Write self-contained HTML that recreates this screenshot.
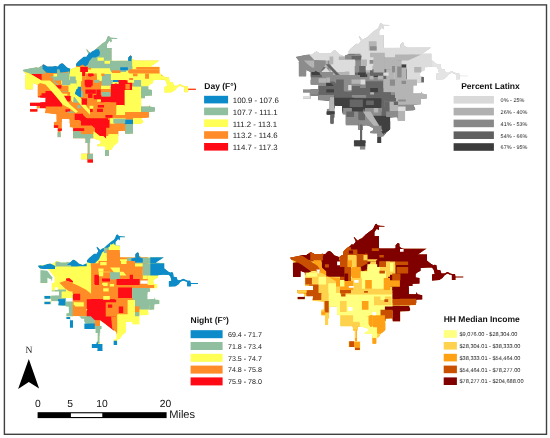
<!DOCTYPE html>
<html><head><meta charset="utf-8"><title>Figure</title>
<style>html,body{margin:0;padding:0;background:#fff}svg{display:block}text{font-family:"Liberation Sans",sans-serif;text-rendering:geometricPrecision}</style>
</head><body>
<svg width="550" height="438" viewBox="0 0 550 438">
<defs><filter id="soft" x="-5%" y="-5%" width="110%" height="110%"><feGaussianBlur stdDeviation="0.4"/></filter></defs>
<rect width="550" height="438" fill="#fff"/>
<rect x="4.4" y="4.9" width="542.1" height="429.4" fill="#fff" stroke="#404040" stroke-width="1.4"/>
<text x="204.3" y="88.8" font-size="8.5" font-weight="bold" fill="#111">Day (F°)</text>
<rect x="204.1" y="95.8" width="24" height="7.6" fill="#0b8bc9"/>
<text x="232.8" y="103.0" font-size="7.8" fill="#222">100.9 - 107.6</text>
<rect x="204.1" y="107.6" width="24" height="7.6" fill="#8fbf9f"/>
<text x="232.8" y="114.8" font-size="7.8" fill="#222">107.7 - 111.1</text>
<rect x="204.1" y="119.4" width="24" height="7.6" fill="#ffff55"/>
<text x="232.8" y="126.6" font-size="7.8" fill="#222">111.2 - 113.1</text>
<rect x="204.1" y="131.2" width="24" height="7.6" fill="#ff8c28"/>
<text x="232.8" y="138.4" font-size="7.8" fill="#222">113.2 - 114.6</text>
<rect x="204.1" y="143.0" width="24" height="7.6" fill="#ff0a14"/>
<text x="232.8" y="150.2" font-size="7.8" fill="#222">114.7 - 117.3</text>
<text x="461.2" y="88.8" font-size="8.5" font-weight="bold" fill="#111">Percent Latinx</text>
<rect x="453.6" y="96.0" width="40.3" height="7.6" fill="#d9d9d9"/>
<text x="500.6" y="102.1" font-size="5.5" fill="#222">0% - 25%</text>
<rect x="453.6" y="107.8" width="40.3" height="7.6" fill="#b0b0b0"/>
<text x="500.6" y="113.9" font-size="5.5" fill="#222">26% - 40%</text>
<rect x="453.6" y="119.6" width="40.3" height="7.6" fill="#888888"/>
<text x="500.6" y="125.7" font-size="5.5" fill="#222">41% - 53%</text>
<rect x="453.6" y="131.4" width="40.3" height="7.6" fill="#606060"/>
<text x="500.6" y="137.5" font-size="5.5" fill="#222">54% - 66%</text>
<rect x="453.6" y="143.2" width="40.3" height="7.6" fill="#3c3c3c"/>
<text x="500.6" y="149.3" font-size="5.5" fill="#222">67% - 95%</text>
<text x="190.6" y="323.2" font-size="8.5" font-weight="bold" fill="#111">Night (F°)</text>
<rect x="190.6" y="330.2" width="32" height="8" fill="#0b8bc9"/>
<text x="228" y="337.0" font-size="7.1" fill="#222">69.4 - 71.7</text>
<rect x="190.6" y="342.0" width="32" height="8" fill="#8fbf9f"/>
<text x="228" y="348.8" font-size="7.1" fill="#222">71.8 - 73.4</text>
<rect x="190.6" y="353.8" width="32" height="8" fill="#ffff55"/>
<text x="228" y="360.6" font-size="7.1" fill="#222">73.5 - 74.7</text>
<rect x="190.6" y="365.6" width="32" height="8" fill="#ff8c28"/>
<text x="228" y="372.4" font-size="7.1" fill="#222">74.8 - 75.8</text>
<rect x="190.6" y="377.4" width="32" height="8" fill="#ff0a14"/>
<text x="228" y="384.2" font-size="7.1" fill="#222">75.9 - 78.0</text>
<text x="443.7" y="322.2" font-size="8.5" font-weight="bold" fill="#111">HH Median Income</text>
<rect x="443.7" y="330.2" width="13.2" height="7.6" fill="#ffff80"/>
<text x="459.5" y="336.2" font-size="5.6" fill="#222">$9,076.00 - $28,304.00</text>
<rect x="443.7" y="342.0" width="13.2" height="7.6" fill="#ffd24d"/>
<text x="459.5" y="348.0" font-size="5.6" fill="#222">$28,304.01 - $38,333.00</text>
<rect x="443.7" y="353.8" width="13.2" height="7.6" fill="#ffa114"/>
<text x="459.5" y="359.8" font-size="5.6" fill="#222">$38,333.01 - $54,464.00</text>
<rect x="443.7" y="365.6" width="13.2" height="7.6" fill="#c85000"/>
<text x="459.5" y="371.6" font-size="5.6" fill="#222">$54,464.01 - $78,277.00</text>
<rect x="443.7" y="377.4" width="13.2" height="7.6" fill="#800000"/>
<text x="459.5" y="383.4" font-size="5.6" fill="#222">$78,277.01 - $204,688.00</text>
<text x="29" y="353" font-size="9.6" text-anchor="middle" style="font-family:'Liberation Serif',serif" fill="#111">N</text>
<polygon points="28.8,358.9 39.1,388.6 28.8,382.1 18.1,388.9" fill="#000"/>
<rect x="37.6" y="412.2" width="129" height="5.9" fill="#000"/>
<rect x="70.9" y="413.3" width="31.4" height="3.7" fill="#fff"/>
<text x="37.9" y="406.5" font-size="10.3" text-anchor="middle" fill="#111">0</text>
<text x="70.1" y="406.5" font-size="10.3" text-anchor="middle" fill="#111">5</text>
<text x="101.9" y="406.5" font-size="10.3" text-anchor="middle" fill="#111">10</text>
<text x="165.6" y="406.5" font-size="10.3" text-anchor="middle" fill="#111">20</text>
<text x="169.2" y="418" font-size="11.1" fill="#111">Miles</text>
<clipPath id="cday"><polygon points="22.7,70.0 30.0,68.5 36.4,67.3 38.5,67.8 42.5,64.8 43.5,64.2 47.4,66.4 52.9,66.4 55.0,65.9 57.8,66.4 60.0,64.0 62.2,63.1 63.8,64.2 67.1,67.5 71.5,69.2 73.0,68.3 76.0,67.3 76.0,64.0 78.0,61.5 81.0,59.0 83.7,56.8 86.4,56.8 88.4,53.8 86.2,49.4 87.0,49.2 90.3,53.0 91.9,51.4 94.6,50.3 97.4,47.5 102.9,43.1 105.6,41.5 107.8,36.6 108.9,36.0 110.5,37.7 117.1,38.1 117.1,38.9 111.2,39.0 111.6,41.0 111.0,42.5 109.6,40.6 106.9,44.2 106.9,48.1 111.6,48.1 111.6,60.7 128.2,60.8 128.2,57.5 130.4,55.3 132.0,55.9 132.0,58.6 134.8,60.6 159.4,60.6 150.3,66.7 159.6,66.8 159.6,72.9 164.1,76.4 166.3,77.5 167.4,77.0 169.0,77.5 169.6,81.9 172.9,82.5 174.0,85.7 177.2,85.7 180.0,84.1 182.2,85.2 184.9,86.3 187.6,86.3 188.2,88.7 195.9,88.7 195.9,89.7 188.2,89.7 188.2,92.3 184.4,92.3 184.4,87.4 182.2,86.8 180.0,85.8 177.2,87.4 175.0,90.1 171.8,92.3 164.6,92.6 164.6,86.8 167.4,86.3 166.3,81.9 164.6,79.7 159.7,79.7 153.1,80.3 153.1,83.0 149.9,84.6 148.2,86.3 148.2,89.6 152.0,90.1 152.0,95.6 145.0,96.0 145.0,98.2 141.2,98.2 141.2,106.4 148.9,106.4 149.4,104.2 149.9,106.5 154.9,107.4 154.9,111.6 148.9,111.9 148.9,117.4 141.8,117.9 141.8,118.7 143.4,122.3 141.2,123.4 133.0,124.0 133.0,133.8 125.3,133.8 125.3,131.6 124.2,130.5 118.2,131.0 118.2,141.9 113.8,145.7 111.6,149.6 108.9,150.1 108.9,156.1 105.0,156.1 105.0,146.3 97.4,146.3 97.4,144.6 100.7,143.5 100.7,140.8 93.5,138.6 90.3,138.6 90.3,143.0 89.7,143.0 89.7,153.4 93.0,153.4 93.0,162.7 87.3,162.7 87.3,159.4 81.0,159.4 81.0,153.4 87.5,153.4 87.5,143.0 85.3,143.0 85.3,138.6 72.9,138.6 72.9,127.5 69.6,127.5 69.6,118.7 61.9,118.7 61.9,130.7 60.8,130.7 60.8,137.3 57.5,137.3 57.5,128.0 53.7,128.0 53.7,122.0 56.4,121.4 56.4,114.3 44.9,113.2 45.7,108.5 37.5,108.5 37.5,111.8 29.9,111.8 29.9,108.9 36.5,108.9 36.5,105.8 29.9,105.8 29.9,102.5 45.7,102.5 45.7,97.6 37.5,97.6 37.5,85.0 33.1,83.0 33.1,89.4 25.5,89.4 25.5,75.2 26.0,74.6"/></clipPath>
<g filter="url(#soft)"><g clip-path="url(#cday)">
<polygon points="22.7,70.0 30.0,68.5 36.4,67.3 38.5,67.8 42.5,64.8 43.5,64.2 47.4,66.4 52.9,66.4 55.0,65.9 57.8,66.4 60.0,64.0 62.2,63.1 63.8,64.2 67.1,67.5 71.5,69.2 73.0,68.3 76.0,67.3 76.0,64.0 78.0,61.5 81.0,59.0 83.7,56.8 86.4,56.8 88.4,53.8 86.2,49.4 87.0,49.2 90.3,53.0 91.9,51.4 94.6,50.3 97.4,47.5 102.9,43.1 105.6,41.5 107.8,36.6 108.9,36.0 110.5,37.7 117.1,38.1 117.1,38.9 111.2,39.0 111.6,41.0 111.0,42.5 109.6,40.6 106.9,44.2 106.9,48.1 111.6,48.1 111.6,60.7 128.2,60.8 128.2,57.5 130.4,55.3 132.0,55.9 132.0,58.6 134.8,60.6 159.4,60.6 150.3,66.7 159.6,66.8 159.6,72.9 164.1,76.4 166.3,77.5 167.4,77.0 169.0,77.5 169.6,81.9 172.9,82.5 174.0,85.7 177.2,85.7 180.0,84.1 182.2,85.2 184.9,86.3 187.6,86.3 188.2,88.7 195.9,88.7 195.9,89.7 188.2,89.7 188.2,92.3 184.4,92.3 184.4,87.4 182.2,86.8 180.0,85.8 177.2,87.4 175.0,90.1 171.8,92.3 164.6,92.6 164.6,86.8 167.4,86.3 166.3,81.9 164.6,79.7 159.7,79.7 153.1,80.3 153.1,83.0 149.9,84.6 148.2,86.3 148.2,89.6 152.0,90.1 152.0,95.6 145.0,96.0 145.0,98.2 141.2,98.2 141.2,106.4 148.9,106.4 149.4,104.2 149.9,106.5 154.9,107.4 154.9,111.6 148.9,111.9 148.9,117.4 141.8,117.9 141.8,118.7 143.4,122.3 141.2,123.4 133.0,124.0 133.0,133.8 125.3,133.8 125.3,131.6 124.2,130.5 118.2,131.0 118.2,141.9 113.8,145.7 111.6,149.6 108.9,150.1 108.9,156.1 105.0,156.1 105.0,146.3 97.4,146.3 97.4,144.6 100.7,143.5 100.7,140.8 93.5,138.6 90.3,138.6 90.3,143.0 89.7,143.0 89.7,153.4 93.0,153.4 93.0,162.7 87.3,162.7 87.3,159.4 81.0,159.4 81.0,153.4 87.5,153.4 87.5,143.0 85.3,143.0 85.3,138.6 72.9,138.6 72.9,127.5 69.6,127.5 69.6,118.7 61.9,118.7 61.9,130.7 60.8,130.7 60.8,137.3 57.5,137.3 57.5,128.0 53.7,128.0 53.7,122.0 56.4,121.4 56.4,114.3 44.9,113.2 45.7,108.5 37.5,108.5 37.5,111.8 29.9,111.8 29.9,108.9 36.5,108.9 36.5,105.8 29.9,105.8 29.9,102.5 45.7,102.5 45.7,97.6 37.5,97.6 37.5,85.0 33.1,83.0 33.1,89.4 25.5,89.4 25.5,75.2 26.0,74.6" fill="#ff8c28"/>
<polygon points="20.0,66.0 32.0,66.0 32.0,72.0 20.0,72.0" fill="#8fbf9f"/>
<polygon points="105.0,40.0 112.0,40.0 112.0,49.0 105.0,49.0" fill="#8fbf9f"/>
<polygon points="107.0,35.0 119.0,35.0 119.0,41.0 107.0,41.0" fill="#8fbf9f"/>
<polygon points="84.0,47.0 91.0,47.0 91.0,56.0 84.0,56.0" fill="#8fbf9f"/>
<polygon points="100.0,60.0 160.0,60.0 160.0,80.0 200.0,80.0 200.0,95.0 140.0,95.0 140.0,125.0 118.0,150.0 95.0,150.0 93.0,131.0 110.0,125.0 125.0,100.0 100.0,80.0" fill="#ffff55"/>
<polygon points="68.5,67.8 90.0,67.8 90.0,95.9 68.5,95.9" fill="#ffff55"/>
<polygon points="81.3,69.0 90.0,69.0 90.0,97.1 81.3,97.1" fill="#ff8c28"/>
<polygon points="76.8,86.9 81.3,86.9 81.3,97.1 76.8,97.1" fill="#0b8bc9"/>
<polygon points="71.1,93.3 76.8,93.3 76.8,106.1 71.1,106.1" fill="#ffff55"/>
<polygon points="73.6,97.1 77.5,97.1 77.5,103.5 73.6,103.5" fill="#8fbf9f"/>
<polygon points="22.0,68.7 34.8,66.0 42.5,66.0 45.7,73.8 30.7,74.0 22.0,71.0" fill="#8fbf9f"/>
<polygon points="42.5,63.3 72.0,63.3 72.0,73.8 69.4,73.8 69.4,71.5 60.3,72.8 58.5,69.2 56.7,73.3 46.6,72.8 42.5,68.7" fill="#0b8bc9"/>
<polygon points="57.1,69.2 59.4,69.2 60.3,72.8 69.4,72.4 69.4,85.2 62.1,85.2 62.1,80.6 53.0,80.6 49.4,77.4 52.1,76.0 57.1,76.0" fill="#8fbf9f"/>
<polygon points="53.5,73.8 57.1,73.8 57.1,76.5 53.5,76.5" fill="#ffff55"/>
<polygon points="30.7,74.0 41.6,74.0 41.6,80.6" fill="#ff0a14"/>
<polygon points="42.1,74.0 49.4,74.0 49.4,80.6 42.1,80.6" fill="#ff8c28"/>
<polygon points="49.4,77.4 53.0,77.4 53.0,80.6 49.4,80.6" fill="#ff8c28"/>
<polygon points="38.9,84.2 45.7,84.2 45.7,96.1 38.9,96.1" fill="#ff8c28"/>
<polygon points="46.2,92.0 53.5,92.0 53.5,98.8 46.2,98.8" fill="#ff0a14"/>
<polygon points="41.6,99.3 62.1,99.3 62.1,106.0 41.6,106.0" fill="#ff0a14"/>
<polygon points="30.2,102.5 41.6,102.5 41.6,106.0 30.2,106.0" fill="#ff0a14"/>
<polygon points="38.0,95.9 46.2,95.9 46.2,97.5 38.0,97.5" fill="#ff0a14"/>
<polygon points="53.5,96.1 58.5,96.1 58.5,98.8 53.5,98.8" fill="#ff8c28"/>
<polygon points="61.2,80.6 72.0,80.6 72.0,85.6 61.2,85.6" fill="#ffff55"/>
<polygon points="53.5,84.2 62.1,84.2 62.1,87.0 53.5,87.0" fill="#ff8c28"/>
<polygon points="55.8,85.6 61.2,85.6 61.2,88.4 55.8,88.4" fill="#ff0a14"/>
<polygon points="58.5,87.0 67.6,87.0 67.6,93.4 58.5,93.4" fill="#ff8c28"/>
<polygon points="62.1,91.5 67.6,91.5 67.6,93.4 62.1,93.4" fill="#8fbf9f"/>
<polygon points="62.1,96.1 70.4,96.1 70.4,102.0 62.1,102.0" fill="#ff0a14"/>
<polygon points="67.6,100.7 72.0,100.7 72.0,106.0 67.6,106.0" fill="#ff8c28"/>
<polygon points="24.7,76.0 33.4,76.0 33.4,88.8 24.7,88.8" fill="#ffff55"/>
<polygon points="52.1,80.6 53.5,80.6 58.5,84.7 57.1,85.2" fill="#8fbf9f"/>
<polygon points="70.0,67.0 140.0,67.0 140.0,81.1 70.0,81.1" fill="#ffff55"/>
<polygon points="87.2,58.7 98.7,44.0 104.5,40.2 106.4,33.8 113.4,33.8 113.4,60.7 132.6,58.7 132.6,68.3 126.2,68.3 126.2,72.1 110.9,72.1 110.9,68.3 89.2,68.3 86.0,65.8" fill="#8fbf9f"/>
<polygon points="73.8,63.8 80.2,57.5 83.4,55.3 86.0,56.2 89.8,52.3 93.0,49.5 98.7,49.2 100.0,52.3 99.4,55.5 95.5,57.5 92.3,57.5 89.2,61.3 87.9,64.5 85.3,66.4 82.8,64.5 78.9,66.4 76.4,65.8" fill="#0b8bc9"/>
<polygon points="88.9,54.0 89.4,53.6 87.0,49.2 86.5,49.4" fill="#8fbf9f"/>
<polygon points="111.5,37.9 117.9,37.9 117.9,38.7 111.5,38.7" fill="#8fbf9f"/>
<polygon points="97.5,57.5 103.8,57.5 103.8,60.7 97.5,60.7" fill="#ffff55"/>
<polygon points="104.5,60.7 111.5,60.7 111.5,63.8 104.5,63.8" fill="#ffff55"/>
<polygon points="80.2,67.0 87.9,67.0 87.9,72.1 80.2,72.1" fill="#ff0a14"/>
<polygon points="82.1,72.1 85.3,72.1 85.3,76.0 82.1,76.0" fill="#ff0a14"/>
<polygon points="87.9,67.7 91.1,67.7 91.1,69.6 87.9,69.6" fill="#ff8c28"/>
<polygon points="85.3,73.4 96.8,73.4 96.8,81.1 85.3,81.1" fill="#ff8c28"/>
<polygon points="82.1,76.0 85.3,76.0 85.3,85.9 82.1,85.9" fill="#ff8c28"/>
<polygon points="89.2,74.1 93.6,74.1 93.6,76.6 89.2,76.6" fill="#ff0a14"/>
<polygon points="85.3,79.8 90.4,79.8 90.4,85.9 85.3,85.9" fill="#ff0a14"/>
<polygon points="70.0,76.6 75.7,76.6 75.7,85.9 70.0,85.9" fill="#8fbf9f"/>
<polygon points="101.9,74.1 110.9,74.1 110.9,85.9 101.9,85.9" fill="#8fbf9f"/>
<polygon points="94.3,79.8 99.4,79.8 99.4,82.4 94.3,82.4" fill="#8fbf9f"/>
<polygon points="101.3,73.4 104.5,73.4 104.5,76.0 101.3,76.0" fill="#ff8c28"/>
<polygon points="112.1,70.2 120.4,70.2 120.4,72.8 112.1,72.8" fill="#ff8c28"/>
<polygon points="120.4,67.0 127.5,67.0 127.5,69.6 120.4,69.6" fill="#0b8bc9"/>
<polygon points="128.1,70.2 140.0,70.2 140.0,72.8 128.1,72.8" fill="#ff8c28"/>
<polygon points="133.9,72.8 137.7,72.8 137.7,75.3 133.9,75.3" fill="#ff8c28"/>
<polygon points="119.8,80.4 124.9,80.4 124.9,85.9 119.8,85.9" fill="#ff0a14"/>
<polygon points="124.9,80.4 127.5,80.4 127.5,85.9 124.9,85.9" fill="#ff8c28"/>
<polygon points="114.7,83.6 118.5,83.6 118.5,85.9 114.7,85.9" fill="#ff0a14"/>
<polygon points="129.4,77.9 133.2,77.9 133.2,79.8 129.4,79.8" fill="#ff0a14"/>
<polygon points="128.1,60.7 128.1,57.5 130.7,54.9 131.9,57.5 131.9,60.7" fill="#0b8bc9"/>
<polygon points="131.9,57.5 133.9,57.5 133.9,60.7 131.9,60.7" fill="#ffff55"/>
<polygon points="132.6,60.7 140.0,60.7 140.0,68.3 132.6,68.3" fill="#ffff55"/>
<polygon points="133.9,80.4 140.0,80.4 140.0,83.0 133.9,83.0" fill="#8fbf9f"/>
<polygon points="111.9,73.0 161.1,73.0 161.1,80.7 111.9,80.7" fill="#ffff55"/>
<polygon points="125.3,80.0 152.1,80.0 152.1,105.9 125.3,105.9" fill="#ffff55"/>
<polygon points="158.5,75.5 180.0,75.5 180.0,93.4 158.5,93.4" fill="#ffff55"/>
<polygon points="110.0,60.9 132.3,60.9 132.3,70.4 110.0,70.4" fill="#8fbf9f"/>
<polygon points="132.3,60.9 135.5,60.9 135.5,66.6 132.3,66.6" fill="#ffff55"/>
<polygon points="128.5,60.9 128.5,57.0 131.1,55.1 131.7,60.9" fill="#0b8bc9"/>
<polygon points="131.7,57.7 134.9,57.7 134.9,60.9 131.7,60.9" fill="#ffff55"/>
<polygon points="134.9,60.9 159.2,60.9 150.9,67.2 136.2,67.2" fill="#ffff55"/>
<polygon points="120.2,67.2 127.9,67.2 127.9,70.2 120.2,70.2" fill="#0b8bc9"/>
<polygon points="129.2,69.2 159.8,69.2 159.8,73.6 129.2,73.6" fill="#ff8c28"/>
<polygon points="136.2,67.0 159.8,67.0 159.8,69.2 136.2,69.2" fill="#ff8c28"/>
<polygon points="111.9,70.4 120.2,70.4 120.2,73.0 111.9,73.0" fill="#ff8c28"/>
<polygon points="145.1,73.6 149.0,73.6 149.0,78.7 145.1,78.7" fill="#ff8c28"/>
<polygon points="133.0,73.6 137.5,73.6 137.5,76.2 133.0,76.2" fill="#ff8c28"/>
<polygon points="110.0,87.0 125.3,87.0 125.3,105.9 110.0,105.9" fill="#ff0a14"/>
<polygon points="117.7,80.0 125.3,80.0 125.3,87.0 117.7,87.0" fill="#ff0a14"/>
<polygon points="117.0,81.9 120.2,81.9 120.2,85.8 117.0,85.8" fill="#ffff55"/>
<polygon points="117.7,90.2 121.5,90.2 121.5,92.1 117.7,92.1" fill="#ffff55"/>
<polygon points="112.6,80.0 118.3,80.0 118.3,81.9 112.6,81.9" fill="#0b8bc9"/>
<polygon points="110.0,88.3 112.6,88.3 112.6,92.1 110.0,92.1" fill="#ff8c28"/>
<polygon points="125.3,80.0 133.0,80.0 133.0,86.4 125.3,86.4" fill="#ff8c28"/>
<polygon points="129.2,78.4 133.0,78.4 133.0,80.0 129.2,80.0" fill="#ff0a14"/>
<polygon points="129.2,89.6 133.0,89.6 133.0,96.0 129.2,96.0" fill="#ff8c28"/>
<polygon points="133.6,80.0 141.3,80.0 141.3,86.4 133.6,86.4" fill="#8fbf9f"/>
<polygon points="141.3,86.4 152.1,86.4 152.1,94.7 141.3,94.7" fill="#8fbf9f"/>
<polygon points="141.3,94.7 145.1,94.7 145.1,98.5 141.3,98.5" fill="#8fbf9f"/>
<polygon points="85.0,85.1 110.5,85.1 110.5,118.3 85.0,118.3" fill="#ff8c28"/>
<polygon points="85.0,80.0 92.7,80.0 92.7,85.7 85.0,85.7" fill="#ff0a14"/>
<polygon points="94.6,80.0 98.4,80.0 98.4,82.6 94.6,82.6" fill="#8fbf9f"/>
<polygon points="101.6,80.0 112.5,80.0 112.5,85.7 101.6,85.7" fill="#8fbf9f"/>
<polygon points="113.1,80.0 118.8,80.0 118.8,81.9 113.1,81.9" fill="#0b8bc9"/>
<polygon points="118.8,80.0 125.9,80.0 125.9,85.1 118.8,85.1" fill="#ff0a14"/>
<polygon points="125.9,80.0 132.9,80.0 132.9,85.7 125.9,85.7" fill="#ff8c28"/>
<polygon points="124.6,85.7 128.4,85.7 128.4,88.9 124.6,88.9" fill="#ff8c28"/>
<polygon points="101.0,85.7 110.5,85.7 110.5,88.9 101.0,88.9" fill="#ffff55"/>
<polygon points="111.2,85.1 124.6,85.1 124.6,104.9 111.2,104.9" fill="#ff0a14"/>
<polygon points="100.3,96.6 111.2,96.6 111.2,102.3 100.3,102.3" fill="#ff0a14"/>
<polygon points="101.6,92.1 110.5,92.1 110.5,96.6 101.6,96.6" fill="#8fbf9f"/>
<polygon points="124.6,89.6 141.2,89.6 141.2,111.9 124.6,111.9" fill="#ffff55"/>
<polygon points="132.9,86.4 141.2,86.4 141.2,92.8 132.9,92.8" fill="#ffff55"/>
<polygon points="132.9,80.0 141.2,80.0 141.2,86.4 132.9,86.4" fill="#8fbf9f"/>
<polygon points="141.2,80.0 148.9,80.0 148.9,85.7 141.2,85.7" fill="#ffff55"/>
<polygon points="141.2,86.4 152.0,86.4 152.0,95.3 141.2,95.3" fill="#8fbf9f"/>
<polygon points="141.2,106.2 155.0,106.2 155.0,111.3 141.2,111.3" fill="#8fbf9f"/>
<polygon points="125.2,111.9 148.9,111.9 148.9,117.0 125.2,117.0" fill="#ff8c28"/>
<polygon points="114.4,115.1 125.2,115.1 125.2,118.3 114.4,118.3" fill="#ff8c28"/>
<polygon points="132.9,117.0 143.1,117.0 143.1,123.4 132.9,123.4" fill="#ffff55"/>
<polygon points="125.2,119.6 132.9,119.6 132.9,124.1 125.2,124.1" fill="#0b8bc9"/>
<polygon points="125.2,124.1 132.9,124.1 132.9,133.6 125.2,133.6" fill="#8fbf9f"/>
<polygon points="113.7,119.0 125.2,119.0 125.2,124.1 113.7,124.1" fill="#8fbf9f"/>
<polygon points="85.0,92.1 90.1,92.1 90.1,96.6 85.0,96.6" fill="#ff0a14"/>
<polygon points="97.8,104.9 104.2,104.9 104.2,107.5 97.8,107.5" fill="#ff0a14"/>
<polygon points="90.1,108.7 92.7,108.7 92.7,111.9 90.1,111.9" fill="#ff0a14"/>
<polygon points="97.1,108.7 102.9,108.7 102.9,111.9 97.1,111.9" fill="#ff0a14"/>
<polygon points="105.4,115.1 112.5,115.1 112.5,117.7 105.4,117.7" fill="#ff0a14"/>
<polygon points="89.5,104.9 93.3,104.9 93.3,108.7 89.5,108.7" fill="#ffff55"/>
<polygon points="97.1,99.2 101.0,99.2 101.0,101.7 97.1,101.7" fill="#ffff55"/>
<polygon points="104.2,102.3 116.3,102.3 116.3,114.5 104.2,114.5" fill="#ff8c28"/>
<polygon points="116.3,104.9 124.6,104.9 124.6,115.1 116.3,115.1" fill="#ffff55"/>
<polygon points="85.0,118.3 108.0,118.3 108.0,123.4 104.2,123.4 104.2,135.9 99.0,135.9 85.0,123.4" fill="#ff0a14"/>
<polygon points="104.2,123.4 125.2,123.4 125.2,135.9 104.2,135.9" fill="#ff8c28"/>
<polygon points="109.9,118.3 114.4,118.3 114.4,123.4 109.9,123.4" fill="#ffff55"/>
<polygon points="37.8,86.9 55.0,86.9 55.0,96.5 37.8,96.5" fill="#ff8c28"/>
<polygon points="41.6,93.3 62.0,93.3 62.0,108.0 41.6,108.0" fill="#ff0a14"/>
<polygon points="30.1,102.9 41.6,102.9 41.6,106.1 30.1,106.1" fill="#ff0a14"/>
<polygon points="30.1,109.3 37.8,109.3 37.8,111.8 30.1,111.8" fill="#ff0a14"/>
<polygon points="45.4,106.1 62.0,108.0 67.1,111.8 78.6,116.9 85.0,123.3 85.0,131.0 73.5,131.0 69.7,123.3 64.6,122.0 56.9,122.7 56.9,114.4 45.4,112.5" fill="#ff8c28"/>
<polygon points="76.1,114.4 82.5,114.4 95.0,125.9 95.0,131.0 85.0,123.3 76.1,118.2" fill="#ff0a14"/>
<polygon points="53.7,125.2 58.2,125.2 58.2,127.8 53.7,127.8" fill="#ff0a14"/>
<polygon points="57.6,128.4 62.0,128.4 62.0,131.0 57.6,131.0" fill="#ff0a14"/>
<polygon points="73.5,128.4 85.0,128.4 85.0,131.0 73.5,131.0" fill="#ff0a14"/>
<polygon points="56.9,132.3 60.8,132.3 60.8,137.4 56.9,137.4" fill="#8fbf9f"/>
<polygon points="73.5,131.6 92.7,131.6 92.7,138.6 73.5,138.6" fill="#8fbf9f"/>
<polygon points="85.0,127.1 95.0,127.1 95.0,133.5 85.0,133.5" fill="#ff8c28"/>
<polygon points="74.8,88.8 81.2,88.8 81.2,95.2 74.8,95.2" fill="#0b8bc9"/>
<polygon points="62.0,95.9 68.4,95.9 68.4,99.0 62.0,99.0" fill="#ff0a14"/>
<polygon points="55.7,88.8 62.0,88.8 62.0,91.4 55.7,91.4" fill="#ff8c28"/>
<polygon points="40.0,84.6 46.4,84.6 46.4,92.8 40.0,92.8" fill="#ff8c28"/>
<polygon points="45.5,90.9 61.9,90.9 61.9,108.3 45.5,108.3" fill="#ff0a14"/>
<polygon points="40.0,95.5 45.5,95.5 45.5,108.3 40.0,108.3" fill="#ff0a14"/>
<polygon points="45.9,106.5 61.9,106.5 61.9,112.8 45.9,112.8" fill="#ff8c28"/>
<polygon points="56.4,112.8 76.5,112.8 76.5,120.0 56.4,120.0" fill="#ff8c28"/>
<polygon points="53.7,85.5 61.4,85.5 61.4,88.7 53.7,88.7" fill="#ff0a14"/>
<polygon points="57.3,88.7 61.9,88.7 61.9,91.9 57.3,91.9" fill="#ff8c28"/>
<polygon points="61.4,91.9 70.1,91.9 70.1,96.0 61.4,96.0" fill="#ff8c28"/>
<polygon points="61.9,96.0 70.1,96.0 70.1,101.4 61.9,101.4" fill="#ff0a14"/>
<polygon points="61.9,93.7 67.4,93.7 67.4,95.5 61.9,95.5" fill="#ffff55"/>
<polygon points="70.1,101.9 77.4,101.9 77.4,110.1 70.1,110.1" fill="#ff8c28"/>
<polygon points="73.3,99.6 78.8,99.6 78.8,102.8 73.3,102.8" fill="#8fbf9f"/>
<polygon points="77.4,105.1 80.6,105.1 80.6,108.3 77.4,108.3" fill="#8fbf9f"/>
<polygon points="65.5,109.2 70.1,109.2 70.1,111.9 65.5,111.9" fill="#ff0a14"/>
<polygon points="67.4,111.5 74.7,111.5 74.7,112.8 67.4,112.8" fill="#8fbf9f"/>
<polygon points="74.7,113.8 82.9,113.8 82.9,120.0 74.7,120.0" fill="#ff0a14"/>
<polygon points="70.1,81.8 81.1,81.8 81.1,89.1 70.1,89.1" fill="#ffff55"/>
<polygon points="61.9,80.0 76.5,80.0 76.5,85.0 61.9,85.0" fill="#8fbf9f"/>
<polygon points="73.8,90.0 77.4,89.1 77.9,86.8 81.1,86.8 81.1,97.3 78.3,96.4 77.4,92.8 73.8,92.3" fill="#0b8bc9"/>
<polygon points="81.1,87.3 83.8,87.3 83.8,97.3 81.1,97.3" fill="#8fbf9f"/>
<polygon points="81.1,81.8 90.0,81.8 90.0,90.9 81.1,90.9" fill="#ff8c28"/>
<polygon points="84.7,80.0 90.0,80.0 90.0,85.5 84.7,85.5" fill="#ff0a14"/>
<polygon points="80.1,98.2 90.0,98.2 90.0,101.9 80.1,101.9" fill="#ff0a14"/>
<polygon points="82.9,90.9 90.0,90.9 90.0,98.2 82.9,98.2" fill="#ff8c28"/>
<polygon points="70.1,83.6 76.5,83.6 76.5,89.1 74.7,93.7 81.1,98.2 87.4,107.4 90.0,110.1 90.0,114.7 82.9,107.4 78.3,101.9 72.8,94.6" fill="#ffff55"/>
<polygon points="24.7,76.0 30.7,74.0 41.6,80.6 50.0,80.5 56.9,86.8 62.8,93.7 66.8,100.5 70.0,104.4 78.0,111.5 76.0,113.0 70.0,108.5 62.5,104.4 58.5,99.5 53.7,93.7 45.5,84.6 40.0,83.0 36.0,86.0 33.4,84.0 33.4,89.5 24.7,89.5" fill="#ffff55"/>
<polygon points="106.1,124.4 124.8,124.4 124.8,131.0 106.1,131.0" fill="#ff8c28"/>
<polygon points="81.0,124.4 93.5,124.4 93.5,134.2 81.0,134.2" fill="#ff8c28"/>
<polygon points="81.0,120.0 109.4,120.0 109.4,127.7 106.1,127.7 106.1,138.6 91.9,125.5 81.0,125.5" fill="#ff0a14"/>
<polygon points="73.3,128.2 84.2,128.2 84.2,131.0 73.3,131.0" fill="#ff0a14"/>
<polygon points="73.3,131.5 81.0,131.5 81.0,138.1 73.3,138.1" fill="#8fbf9f"/>
<polygon points="81.0,134.2 93.0,134.2 93.0,138.1 81.0,138.1" fill="#8fbf9f"/>
<polygon points="85.3,138.1 90.3,138.1 90.3,143.0 85.3,143.0" fill="#8fbf9f"/>
<polygon points="87.5,143.0 89.7,143.0 89.7,152.9 87.5,152.9" fill="#8fbf9f"/>
<polygon points="87.5,153.4 93.0,153.4 93.0,159.4 87.5,159.4" fill="#8fbf9f"/>
<polygon points="81.0,153.4 87.0,153.4 87.0,159.4 81.0,159.4" fill="#ffff55"/>
<polygon points="87.3,159.6 93.0,159.6 93.0,162.7 87.3,162.7" fill="#ff0a14"/>
<polygon points="93.5,131.0 93.5,138.6 100.7,141.4 100.7,143.5 97.4,145.7 105.0,146.8 105.0,149.6 111.6,149.6 113.8,145.7 118.2,141.9 118.2,134.2 109.4,134.2 108.3,142.5 93.5,131.0" fill="#ffff55"/>
<polygon points="108.3,134.2 118.2,134.2 118.2,146.3 108.3,146.3" fill="#ffff55"/>
<polygon points="105.0,150.1 108.9,150.1 108.9,156.1 105.0,156.1" fill="#8fbf9f"/>
<polygon points="124.8,124.4 130.0,124.4 130.0,134.2 124.8,134.2" fill="#8fbf9f"/>
<polygon points="124.8,120.0 130.0,120.0 130.0,124.4 124.8,124.4" fill="#0b8bc9"/>
<polygon points="141.2,90.0 152.2,90.0 152.2,98.2 141.2,98.2" fill="#8fbf9f"/>
<polygon points="141.2,106.4 154.9,106.4 154.9,111.9 141.2,111.9" fill="#8fbf9f"/>
<polygon points="125.3,111.9 148.9,111.9 148.9,117.9 125.3,117.9" fill="#ff8c28"/>
<polygon points="125.3,115.2 133.5,115.2 133.5,119.6 125.3,119.6" fill="#ff8c28"/>
<polygon points="133.0,117.9 144.0,117.9 144.0,124.0 133.0,124.0" fill="#ffff55"/>
<polygon points="125.3,119.8 133.0,119.8 133.0,124.0 125.3,124.0" fill="#0b8bc9"/>
<polygon points="125.3,124.0 133.0,124.0 133.0,133.8 125.3,133.8" fill="#8fbf9f"/>
<polygon points="113.3,118.7 125.3,118.7 125.3,122.9 113.3,122.9" fill="#8fbf9f"/>
<polygon points="110.0,124.0 125.3,124.0 125.3,133.8 110.0,133.8" fill="#ff8c28"/>
<polygon points="85.4,80.1 91.4,80.1 91.4,87.2 85.4,87.2" fill="#ff0a14"/>
<polygon points="85.4,89.4 95.8,89.4 95.8,93.8 85.4,93.8" fill="#ff0a14"/>
<polygon points="93.6,94.9 101.3,94.9 101.3,99.2 93.6,99.2" fill="#ff0a14"/>
<polygon points="81.6,99.2 87.0,99.2 87.0,104.7 81.6,104.7" fill="#ff0a14"/>
<polygon points="96.4,89.4 100.7,89.4 100.7,94.9 96.4,94.9" fill="#ff0a14"/>
<polygon points="88.1,73.5 93.1,73.5 93.1,76.2 88.1,76.2" fill="#ff0a14"/>
<polygon points="91.4,76.2 96.9,76.2 96.9,80.1 91.4,80.1" fill="#ff8c28"/>
<polygon points="111.1,83.9 121.0,83.9 121.0,94.9 111.1,94.9" fill="#ff0a14"/>
<polygon points="118.8,80.6 132.0,80.6 132.0,89.9 118.8,89.9" fill="#ff0a14"/>
<polygon points="125.4,83.9 129.8,83.9 129.8,89.4 125.4,89.4" fill="#ff8c28"/>
<polygon points="127.6,79.5 134.1,79.5 134.1,82.8 127.6,82.8" fill="#ffff55"/>
<polygon points="88.1,93.8 92.5,93.8 92.5,98.1 88.1,98.1" fill="#ff0a14"/>
<polygon points="87.0,98.1 93.6,98.1 93.6,105.8 87.0,105.8" fill="#ff8c28"/>
<polygon points="188.3,88.0 197.0,88.0 197.0,90.5 188.3,90.5" fill="#ff0a14"/>
<polygon points="22.3,70.9 31.0,74.0 25.0,77.0 22.0,74.0" fill="#ffff55"/>
</g></g>
<clipPath id="cnight"><polygon points="37.8,265.8 44.5,264.5 50.4,263.3 52.4,263.8 56.1,261.1 57.0,260.5 60.6,262.5 65.7,262.5 67.6,262.1 70.2,262.5 72.2,260.3 74.3,259.5 75.8,260.5 78.8,263.5 82.9,265.1 84.3,264.3 87.0,263.3 87.0,260.3 88.9,258.0 91.6,255.7 94.1,253.7 96.6,253.7 98.5,250.9 96.4,246.9 97.2,246.7 100.2,250.2 101.7,248.7 104.2,247.7 106.8,245.2 111.9,241.1 114.4,239.6 116.4,235.1 117.4,234.6 118.9,236.1 125.0,236.5 125.0,237.2 119.5,237.3 119.9,239.2 119.4,240.6 118.1,238.8 115.6,242.1 115.6,245.7 119.9,245.7 119.9,257.3 135.3,257.4 135.3,254.3 137.3,252.3 138.8,252.9 138.8,255.4 141.4,257.2 164.1,257.2 155.7,262.8 164.3,262.9 164.3,268.5 168.4,271.7 170.5,272.7 171.5,272.3 173.0,272.7 173.5,276.8 176.6,277.3 177.6,280.3 180.5,280.3 183.1,278.8 185.2,279.8 187.6,280.8 190.1,280.8 190.7,283.0 197.8,283.0 197.8,283.9 190.7,283.9 190.7,286.3 187.2,286.3 187.2,281.8 185.2,281.3 183.1,280.4 180.5,281.8 178.5,284.3 175.5,286.3 168.9,286.6 168.9,281.3 171.5,280.8 170.5,276.8 168.9,274.7 164.4,274.7 158.3,275.3 158.3,277.8 155.3,279.2 153.7,280.8 153.7,283.8 157.2,284.3 157.2,289.4 150.8,289.7 150.8,291.7 147.3,291.7 147.3,299.3 154.4,299.3 154.8,297.3 155.3,299.4 159.9,300.2 159.9,304.1 154.4,304.3 154.4,309.4 147.8,309.9 147.8,310.6 149.3,313.9 147.3,314.9 139.7,315.5 139.7,324.5 132.6,324.5 132.6,322.4 131.6,321.4 126.0,321.9 126.0,331.9 122.0,335.4 119.9,339.0 117.4,339.4 117.4,345.0 113.8,345.0 113.8,335.9 106.8,335.9 106.8,334.4 109.8,333.4 109.8,330.9 103.2,328.9 100.2,328.9 100.2,332.9 99.7,332.9 99.7,342.5 102.7,342.5 102.7,351.0 97.5,351.0 97.5,348.0 91.6,348.0 91.6,342.5 97.7,342.5 97.7,332.9 95.6,332.9 95.6,328.9 84.2,328.9 84.2,318.7 81.1,318.7 81.1,310.6 74.0,310.6 74.0,321.6 73.0,321.6 73.0,327.7 69.9,327.7 69.9,319.1 66.4,319.1 66.4,313.6 68.9,313.1 68.9,306.5 58.3,305.5 59.0,301.2 51.5,301.2 51.5,304.2 44.4,304.2 44.4,301.6 50.5,301.6 50.5,298.7 44.4,298.7 44.4,295.7 59.0,295.7 59.0,291.2 51.5,291.2 51.5,279.6 47.4,277.8 47.4,283.7 40.4,283.7 40.4,270.6 40.8,270.1"/><polygon points="73.5,310.0 81.5,310.0 81.5,319.0 73.5,319.0"/></clipPath>
<g filter="url(#soft)"><g clip-path="url(#cnight)">
<polygon points="37.8,265.8 44.5,264.5 50.4,263.3 52.4,263.8 56.1,261.1 57.0,260.5 60.6,262.5 65.7,262.5 67.6,262.1 70.2,262.5 72.2,260.3 74.3,259.5 75.8,260.5 78.8,263.5 82.9,265.1 84.3,264.3 87.0,263.3 87.0,260.3 88.9,258.0 91.6,255.7 94.1,253.7 96.6,253.7 98.5,250.9 96.4,246.9 97.2,246.7 100.2,250.2 101.7,248.7 104.2,247.7 106.8,245.2 111.9,241.1 114.4,239.6 116.4,235.1 117.4,234.6 118.9,236.1 125.0,236.5 125.0,237.2 119.5,237.3 119.9,239.2 119.4,240.6 118.1,238.8 115.6,242.1 115.6,245.7 119.9,245.7 119.9,257.3 135.3,257.4 135.3,254.3 137.3,252.3 138.8,252.9 138.8,255.4 141.4,257.2 164.1,257.2 155.7,262.8 164.3,262.9 164.3,268.5 168.4,271.7 170.5,272.7 171.5,272.3 173.0,272.7 173.5,276.8 176.6,277.3 177.6,280.3 180.5,280.3 183.1,278.8 185.2,279.8 187.6,280.8 190.1,280.8 190.7,283.0 197.8,283.0 197.8,283.9 190.7,283.9 190.7,286.3 187.2,286.3 187.2,281.8 185.2,281.3 183.1,280.4 180.5,281.8 178.5,284.3 175.5,286.3 168.9,286.6 168.9,281.3 171.5,280.8 170.5,276.8 168.9,274.7 164.4,274.7 158.3,275.3 158.3,277.8 155.3,279.2 153.7,280.8 153.7,283.8 157.2,284.3 157.2,289.4 150.8,289.7 150.8,291.7 147.3,291.7 147.3,299.3 154.4,299.3 154.8,297.3 155.3,299.4 159.9,300.2 159.9,304.1 154.4,304.3 154.4,309.4 147.8,309.9 147.8,310.6 149.3,313.9 147.3,314.9 139.7,315.5 139.7,324.5 132.6,324.5 132.6,322.4 131.6,321.4 126.0,321.9 126.0,331.9 122.0,335.4 119.9,339.0 117.4,339.4 117.4,345.0 113.8,345.0 113.8,335.9 106.8,335.9 106.8,334.4 109.8,333.4 109.8,330.9 103.2,328.9 100.2,328.9 100.2,332.9 99.7,332.9 99.7,342.5 102.7,342.5 102.7,351.0 97.5,351.0 97.5,348.0 91.6,348.0 91.6,342.5 97.7,342.5 97.7,332.9 95.6,332.9 95.6,328.9 84.2,328.9 84.2,318.7 81.1,318.7 81.1,310.6 74.0,310.6 74.0,321.6 73.0,321.6 73.0,327.7 69.9,327.7 69.9,319.1 66.4,319.1 66.4,313.6 68.9,313.1 68.9,306.5 58.3,305.5 59.0,301.2 51.5,301.2 51.5,304.2 44.4,304.2 44.4,301.6 50.5,301.6 50.5,298.7 44.4,298.7 44.4,295.7 59.0,295.7 59.0,291.2 51.5,291.2 51.5,279.6 47.4,277.8 47.4,283.7 40.4,283.7 40.4,270.6 40.8,270.1" fill="#ffff55"/>
<polygon points="164.6,267.7 198.8,267.7 198.8,287.0 164.6,287.0" fill="#0b8bc9"/>
<polygon points="113.8,238.3 120.3,238.3 120.3,246.5 113.8,246.5" fill="#0b8bc9"/>
<polygon points="115.7,233.7 126.8,233.7 126.8,239.2 115.7,239.2" fill="#0b8bc9"/>
<polygon points="94.4,244.7 100.9,244.7 100.9,253.0 94.4,253.0" fill="#0b8bc9"/>
<polygon points="90.8,263.3 120.0,263.3 120.0,299.9 90.8,299.9" fill="#ff8c28"/>
<polygon points="112.1,252.6 120.0,252.6 120.0,272.3 112.1,272.3" fill="#ff8c28"/>
<polygon points="60.4,280.5 90.8,277.3 90.8,299.9 72.7,299.9" fill="#ff8c28"/>
<polygon points="34.9,263.3 42.3,265.8 49.7,263.3 56.3,266.6 67.8,264.9 73.5,259.2 79.3,263.3 86.7,261.7 86.7,266.6 79.3,266.6 71.1,268.2 56.3,269.1 43.1,269.1 37.4,268.2" fill="#0b8bc9"/>
<polygon points="55.5,261.7 71.1,261.7 71.1,268.2 55.5,268.2" fill="#8fbf9f"/>
<polygon points="66.9,264.9 73.5,259.2 79.3,264.9" fill="#0b8bc9"/>
<polygon points="85.0,261.7 95.7,251.0 99.0,246.1 102.2,244.4 107.2,242.0 115.4,233.7 120.0,231.3 120.0,237.9 112.1,244.4 107.2,248.5 102.2,252.6 99.0,259.2 94.9,263.3 90.8,263.3" fill="#0b8bc9"/>
<polygon points="103.9,247.7 108.8,247.7 108.8,253.5 103.9,253.5" fill="#8fbf9f"/>
<polygon points="36.6,269.1 48.1,269.1 54.6,277.3 54.6,282.2 48.1,284.7 48.1,293.7 36.6,293.7" fill="#ffffff"/>
<polygon points="39.9,269.9 47.2,270.7 52.2,277.3 52.2,280.5 47.2,283.0 39.9,283.0" fill="#8fbf9f"/>
<polygon points="94.9,274.8 99.0,274.8 99.0,293.7 94.9,293.7" fill="#ff0a14"/>
<polygon points="65.3,278.9 72.7,278.9 72.7,283.0 65.3,283.0" fill="#ff0a14"/>
<polygon points="102.2,278.9 110.5,278.9 110.5,281.4 102.2,281.4" fill="#ff0a14"/>
<polygon points="110.5,272.3 120.0,272.3 120.0,279.7 110.5,279.7" fill="#8fbf9f"/>
<polygon points="102.2,283.0 107.2,283.0 107.2,287.1 102.2,287.1" fill="#ffff55"/>
<polygon points="112.1,282.2 120.0,282.2 120.0,287.1 112.1,287.1" fill="#ffff55"/>
<polygon points="107.2,292.0 112.1,292.0 112.1,297.0 107.2,297.0" fill="#ffff55"/>
<polygon points="99.0,263.3 103.1,263.3 103.1,275.6 99.0,275.6" fill="#ffff55"/>
<polygon points="103.1,269.1 112.1,269.1 112.1,272.3 103.1,272.3" fill="#ffff55"/>
<polygon points="51.3,290.4 71.1,290.4 71.1,299.9 51.3,299.9" fill="#8fbf9f"/>
<polygon points="72.7,292.0 79.3,292.0 79.3,298.6 72.7,298.6" fill="#ff0a14"/>
<polygon points="110.0,252.6 147.8,252.6 147.8,293.7 110.0,293.7" fill="#ff8c28"/>
<polygon points="110.0,244.4 119.9,244.4 119.9,252.6 110.0,252.6" fill="#ffff55"/>
<polygon points="119.9,259.2 127.2,259.2 127.2,265.8 119.9,265.8" fill="#ffff55"/>
<polygon points="110.0,267.4 119.9,267.4 126.4,275.6 116.6,275.6" fill="#ffff55"/>
<polygon points="127.2,263.3 142.8,263.3 142.8,266.6 127.2,266.6" fill="#ffff55"/>
<polygon points="142.8,269.1 147.8,269.1 147.8,278.9 142.8,278.9" fill="#ffff55"/>
<polygon points="147.8,282.2 157.6,282.2 157.6,289.6 147.8,289.6" fill="#ffff55"/>
<polygon points="127.2,257.6 150.2,257.6 150.2,263.3 127.2,263.3" fill="#8fbf9f"/>
<polygon points="142.8,263.3 150.2,263.3 150.2,275.6 142.8,275.6" fill="#8fbf9f"/>
<polygon points="110.0,272.3 119.9,272.3 119.9,278.9 110.0,278.9" fill="#8fbf9f"/>
<polygon points="131.3,262.5 131.3,258.4 136.3,257.6 137.9,252.6 139.6,257.6 142.8,258.4 142.8,262.5" fill="#0b8bc9"/>
<polygon points="150.2,255.9 165.0,255.9 159.3,263.3 150.2,263.3" fill="#0b8bc9"/>
<polygon points="150.2,263.3 165.0,263.3 165.0,275.6 150.2,275.6" fill="#0b8bc9"/>
<polygon points="164.2,269.1 200.0,269.1 200.0,287.1 164.2,287.1" fill="#0b8bc9"/>
<polygon points="116.6,278.9 139.6,278.9 139.6,285.5 116.6,285.5" fill="#ff0a14"/>
<polygon points="116.6,285.5 132.2,285.5 132.2,297.8 116.6,297.8" fill="#ff0a14"/>
<polygon points="129.7,274.8 133.0,274.8 133.0,278.9 129.7,278.9" fill="#ff0a14"/>
<polygon points="132.2,285.5 136.3,285.5 136.3,293.7 132.2,293.7" fill="#ffff55"/>
<polygon points="132.2,287.9 147.8,287.9 147.8,299.9 132.2,299.9" fill="#8fbf9f"/>
<polygon points="140.4,280.5 147.8,280.5 147.8,283.8 140.4,283.8" fill="#ffffff"/>
<polygon points="147.8,290.4 157.6,290.4 157.6,299.9 147.8,299.9" fill="#ffffff"/>
<polygon points="30.0,305.5 65.3,305.5 65.3,356.9 30.0,356.9" fill="#ffffff"/>
<polygon points="51.3,301.4 57.9,301.4 57.9,305.5 51.3,305.5" fill="#ffffff"/>
<polygon points="65.3,316.2 84.2,316.2 84.2,356.9 65.3,356.9" fill="#ffffff"/>
<polygon points="30.0,289.9 51.3,289.9 51.3,294.9 30.0,294.9" fill="#ffffff"/>
<polygon points="44.0,295.7 50.5,295.7 50.5,299.0 44.0,299.0" fill="#0b8bc9"/>
<polygon points="44.0,301.4 50.5,301.4 50.5,304.7 44.0,304.7" fill="#0b8bc9"/>
<polygon points="51.3,291.6 72.7,291.6 72.7,301.4 51.3,301.4" fill="#8fbf9f"/>
<polygon points="65.3,298.1 73.0,298.1 73.0,302.2 65.3,302.2" fill="#ffffff"/>
<polygon points="57.9,299.0 65.3,299.0 65.3,305.5 57.9,305.5" fill="#0b8bc9"/>
<polygon points="65.3,302.2 73.0,302.2 73.0,316.2 65.3,316.2" fill="#8fbf9f"/>
<polygon points="65.3,317.0 70.2,317.0 70.2,320.3 65.3,320.3" fill="#0b8bc9"/>
<polygon points="69.4,320.3 73.0,320.3 73.0,328.5 69.4,328.5" fill="#0b8bc9"/>
<polygon points="72.7,301.4 86.7,301.4 86.7,316.2 72.7,316.2" fill="#ff8c28"/>
<polygon points="94.9,320.3 102.2,320.3 102.2,326.1 94.9,326.1" fill="#ff8c28"/>
<polygon points="86.7,291.6 120.0,291.6 120.0,320.3 86.7,320.3" fill="#ff8c28"/>
<polygon points="72.7,285.0 120.0,285.0 120.0,294.9 72.7,294.9" fill="#ff8c28"/>
<polygon points="72.7,301.4 79.3,301.4 86.7,308.0 86.7,311.3 79.3,306.3 72.7,306.3" fill="#ffff55"/>
<polygon points="86.7,299.0 107.2,299.0 107.2,320.3 86.7,320.3" fill="#ff0a14"/>
<polygon points="95.7,320.3 120.0,320.3 120.0,339.2 102.2,320.3" fill="#ff0a14"/>
<polygon points="74.3,294.9 84.2,294.9 84.2,299.0 74.3,299.0" fill="#ff0a14"/>
<polygon points="73.0,316.2 79.3,316.2 95.7,332.6 95.7,344.1 73.0,344.1" fill="#ffffff"/>
<polygon points="79.3,316.2 90.8,316.2 94.9,320.3 94.9,324.4 85.8,323.6" fill="#8fbf9f"/>
<polygon points="84.2,323.6 94.9,323.6 94.9,329.3 84.2,329.3" fill="#0b8bc9"/>
<polygon points="94.9,326.1 102.2,326.1 102.2,335.9 94.9,335.9" fill="#8fbf9f"/>
<polygon points="96.5,335.9 99.8,335.9 99.8,343.3 96.5,343.3" fill="#8fbf9f"/>
<polygon points="84.2,329.3 94.9,329.3 94.9,356.9 84.2,356.9" fill="#ffffff"/>
<polygon points="99.8,335.9 112.1,335.9 112.1,356.9 99.8,356.9" fill="#ffffff"/>
<polygon points="94.9,335.9 96.5,335.9 96.5,356.9 94.9,356.9" fill="#ffffff"/>
<polygon points="91.6,344.1 102.2,344.1 102.2,350.7 91.6,350.7" fill="#0b8bc9"/>
<polygon points="96.5,340.8 98.1,340.8 98.1,344.4 96.5,344.4" fill="#0b8bc9"/>
<polygon points="95.7,349.9 102.2,349.9 102.2,352.3 95.7,352.3" fill="#0b8bc9"/>
<polygon points="112.9,340.8 117.0,340.8 117.0,346.6 112.9,346.6" fill="#0b8bc9"/>
<polygon points="112.1,334.3 120.0,334.3 120.0,340.8 112.1,340.8" fill="#ffff55"/>
<polygon points="100.0,285.0 154.2,285.0 154.2,288.3 100.0,288.3" fill="#ff8c28"/>
<polygon points="100.0,285.0 118.1,285.0 118.1,301.4 100.0,301.4" fill="#ff8c28"/>
<polygon points="149.3,288.3 190.0,288.3 190.0,297.3 149.3,297.3" fill="#ffffff"/>
<polygon points="159.1,297.3 190.0,297.3 190.0,356.9 159.1,356.9" fill="#ffffff"/>
<polygon points="154.5,305.5 190.0,305.5 190.0,311.3 154.5,311.3" fill="#ffffff"/>
<polygon points="148.4,309.6 190.0,309.6 190.0,356.9 148.4,356.9" fill="#ffffff"/>
<polygon points="139.4,315.4 190.0,315.4 190.0,356.9 139.4,356.9" fill="#ffffff"/>
<polygon points="125.5,324.4 190.0,324.4 190.0,356.9 125.5,356.9" fill="#ffffff"/>
<polygon points="121.3,332.6 190.0,332.6 190.0,356.9 121.3,356.9" fill="#ffffff"/>
<polygon points="132.8,288.3 149.3,288.3 149.3,309.6 132.8,309.6" fill="#8fbf9f"/>
<polygon points="149.3,297.3 159.4,297.3 159.4,305.5 149.3,305.5" fill="#8fbf9f"/>
<polygon points="149.3,297.3 154.5,297.3 154.5,310.0 149.3,310.0" fill="#8fbf9f"/>
<polygon points="132.8,288.3 150.1,288.3 150.1,293.2 132.8,293.2" fill="#8fbf9f"/>
<polygon points="118.1,287.5 132.0,287.5 132.0,298.1 118.1,298.1" fill="#ff0a14"/>
<polygon points="100.0,299.8 116.4,299.8 116.4,332.6 100.0,320.3" fill="#ff0a14"/>
<polygon points="116.4,298.1 132.8,298.1 132.8,316.2 116.4,316.2" fill="#ff8c28"/>
<polygon points="132.8,306.3 139.4,306.3 139.4,312.1 132.8,312.1" fill="#ff8c28"/>
<polygon points="116.4,316.2 139.4,316.2 139.4,324.4 116.4,324.4" fill="#ffff55"/>
<polygon points="140.2,310.5 148.4,310.5 148.4,315.4 140.2,315.4" fill="#ffff55"/>
<polygon points="114.0,324.4 125.5,324.4 125.5,332.6 114.0,332.6" fill="#ffff55"/>
<polygon points="116.4,332.6 121.3,332.6 121.3,339.2 116.4,339.2" fill="#ffff55"/>
<polygon points="132.8,312.1 139.4,312.1 139.4,316.2 132.8,316.2" fill="#8fbf9f"/>
<polygon points="113.1,340.8 117.2,340.8 117.2,345.8 113.1,345.8" fill="#0b8bc9"/>
<polygon points="100.0,344.1 102.5,344.1 102.5,352.3 100.0,352.3" fill="#0b8bc9"/>
<polygon points="100.0,320.3 116.4,332.6 116.4,339.2 100.0,339.2" fill="#ffffff"/>
<polygon points="100.0,326.1 101.6,326.1 101.6,330.2 100.0,330.2" fill="#8fbf9f"/>
<polygon points="55.0,266.4 91.1,266.4 91.1,294.9 55.0,294.9" fill="#ffff55"/>
<polygon points="59.4,282.8 66.0,280.6 76.9,285.0 85.7,289.4 91.1,293.8 91.1,300.3 82.4,300.3 72.5,293.8 64.9,288.3" fill="#ff8c28"/>
<polygon points="72.5,298.1 87.9,298.1 87.9,310.0 72.5,310.0" fill="#ff8c28"/>
<polygon points="66.0,278.4 69.2,277.9 73.1,281.2 72.5,282.8 66.0,280.6" fill="#ff0a14"/>
<polygon points="73.1,293.8 80.2,293.8 80.2,300.3 73.1,300.3" fill="#ff0a14"/>
<polygon points="86.8,299.2 115.0,299.2 115.0,310.0 86.8,310.0" fill="#ff0a14"/>
<polygon points="94.4,275.1 98.3,275.1 98.3,283.9 94.4,283.9" fill="#ff0a14"/>
<polygon points="102.1,278.4 109.8,278.4 109.8,280.6 102.1,280.6" fill="#ff0a14"/>
<polygon points="98.8,268.6 103.2,268.6 103.2,276.2 98.8,276.2" fill="#ffff55"/>
<polygon points="103.2,282.8 107.6,282.8 107.6,286.1 103.2,286.1" fill="#ffff55"/>
<polygon points="103.2,288.3 108.7,288.3 108.7,291.6 103.2,291.6" fill="#ffff55"/>
<polygon points="103.2,296.0 109.8,296.0 109.8,299.8 103.2,299.8" fill="#ffff55"/>
<polygon points="109.8,283.9 114.1,283.9 114.1,286.6 109.8,286.6" fill="#ffff55"/>
<polygon points="73.6,301.4 87.9,310.0 81.3,310.0 73.6,304.7" fill="#ffff55"/>
<polygon points="110.3,272.4 115.0,272.4 115.0,279.5 110.3,279.5" fill="#8fbf9f"/>
<polygon points="55.0,289.4 66.0,289.4 66.0,299.2 55.0,299.2" fill="#8fbf9f"/>
<polygon points="61.6,291.6 72.5,291.6 72.5,298.1 61.6,298.1" fill="#ffff55"/>
<polygon points="58.3,299.2 65.4,299.2 65.4,305.3 58.3,305.3" fill="#0b8bc9"/>
<polygon points="66.0,298.7 72.5,298.7 72.5,301.4 66.0,301.4" fill="#ffffff"/>
<polygon points="66.0,301.4 72.5,301.4 72.5,310.0 66.0,310.0" fill="#8fbf9f"/>
<polygon points="55.0,287.2 57.7,287.2 57.7,289.9 55.0,289.9" fill="#ffffff"/>
<polygon points="105.7,302.2 127.6,302.2 127.6,316.4 105.7,316.4" fill="#ff8c28"/>
<polygon points="118.8,306.6 123.2,306.6 123.2,313.1 118.8,313.1" fill="#ff0a14"/>
<polygon points="107.9,304.4 112.2,304.4 112.2,307.7 107.9,307.7" fill="#ff0a14"/>
<polygon points="127.6,300.0 135.0,300.0 135.0,316.4 127.6,316.4" fill="#ffff55"/>
<polygon points="117.2,314.2 135.0,314.2 135.0,324.1 117.2,324.1" fill="#ffff55"/>
<polygon points="117.2,324.1 126.5,324.1 126.5,337.2 117.2,337.2" fill="#ffff55"/>
<polygon points="111.1,316.4 117.2,316.4 117.2,332.9 112.2,328.5" fill="#ff8c28"/>
<polygon points="75.0,305.5 86.0,305.5 86.0,314.2 75.0,314.2" fill="#ff8c28"/>
<polygon points="75.0,302.2 83.8,302.2 83.8,306.6 75.0,306.6" fill="#ffff55"/>
<polygon points="98.5,260.9 110.0,260.9 110.0,271.8 98.5,271.8" fill="#ff8c28"/>
<polygon points="119.9,260.9 135.0,260.9 135.0,271.8 119.9,271.8" fill="#ff8c28"/>
<polygon points="100.2,262.0 106.8,262.0 106.8,265.2 100.2,265.2" fill="#ffff55"/>
<polygon points="98.5,268.5 103.5,268.5 103.5,271.8 98.5,271.8" fill="#ffff55"/>
<polygon points="121.0,260.9 126.5,260.9 126.5,264.1 121.0,264.1" fill="#ffff55"/>
<polygon points="106.8,249.9 119.9,249.9 119.9,265.2 106.8,265.2" fill="#ff8c28"/>
<polygon points="102.4,253.2 106.8,253.2 106.8,260.9 102.4,260.9" fill="#ffff55"/>
<polygon points="106.8,254.3 111.1,255.4 111.1,258.7 106.8,257.6" fill="#ff8c28"/>
<polygon points="134.6,251.1 139.0,251.1 139.0,257.5 134.6,257.5" fill="#0b8bc9"/>
</g></g>
<clipPath id="clatinx"><polygon points="295.9,57.0 303.1,55.5 309.4,54.3 311.5,54.8 315.5,51.8 316.5,51.2 320.3,53.4 325.8,53.4 327.8,52.9 330.6,53.4 332.8,51.0 335.0,50.1 336.6,51.2 339.8,54.5 344.2,56.2 345.7,55.3 348.6,54.3 348.6,51.0 350.6,48.5 353.6,46.0 356.3,43.8 358.9,43.8 360.9,40.8 358.7,36.4 359.5,36.2 362.8,40.0 364.4,38.4 367.1,37.3 369.8,34.5 375.3,30.1 377.9,28.5 380.1,23.6 381.2,23.0 382.8,24.7 389.3,25.1 389.3,25.9 383.5,26.0 383.9,28.0 383.3,29.5 381.9,27.6 379.2,31.2 379.2,35.1 383.9,35.1 383.9,47.7 400.3,47.8 400.3,44.5 402.5,42.3 404.1,42.9 404.1,45.6 406.9,47.6 431.2,47.6 422.2,53.7 431.4,53.8 431.4,59.9 435.9,63.4 438.0,64.5 439.1,64.0 440.7,64.5 441.3,68.9 444.6,69.5 445.7,72.7 448.8,72.7 451.6,71.1 453.8,72.2 456.5,73.3 459.1,73.3 459.7,75.7 467.3,75.7 467.3,76.7 459.7,76.7 459.7,79.3 456.0,79.3 456.0,74.4 453.8,73.8 451.6,72.8 448.8,74.4 446.6,77.1 443.5,79.3 436.4,79.6 436.4,73.8 439.1,73.3 438.0,68.9 436.4,66.7 431.5,66.7 425.0,67.3 425.0,70.0 421.8,71.6 420.1,73.3 420.1,76.6 423.9,77.1 423.9,82.6 416.9,83.0 416.9,85.2 413.2,85.2 413.2,93.4 420.8,93.4 421.3,91.2 421.8,93.5 426.8,94.4 426.8,98.6 420.8,98.9 420.8,104.4 413.8,104.9 413.8,105.7 415.4,109.3 413.2,110.4 405.1,111.0 405.1,120.8 397.4,120.8 397.4,118.6 396.4,117.5 390.4,118.0 390.4,128.9 386.1,132.7 383.9,136.6 381.2,137.1 381.2,143.1 377.3,143.1 377.3,133.3 369.8,133.3 369.8,131.6 373.1,130.5 373.1,127.8 366.0,125.6 362.8,125.6 362.8,130.0 362.2,130.0 362.2,140.4 365.5,140.4 365.5,149.7 359.8,149.7 359.8,146.4 353.6,146.4 353.6,140.4 360.0,140.4 360.0,130.0 357.8,130.0 357.8,125.6 345.6,125.6 345.6,114.5 342.3,114.5 342.3,105.7 334.7,105.7 334.7,117.7 333.6,117.7 333.6,124.3 330.3,124.3 330.3,115.0 326.6,115.0 326.6,109.0 329.2,108.4 329.2,101.3 317.9,100.2 318.6,95.5 310.5,95.5 310.5,98.8 303.0,98.8 303.0,95.9 309.5,95.9 309.5,92.8 303.0,92.8 303.0,89.5 318.6,89.5 318.6,84.6 310.5,84.6 310.5,72.0 306.2,70.0 306.2,76.4 298.6,76.4 298.6,62.2 299.1,61.6"/></clipPath>
<g filter="url(#soft)"><g clip-path="url(#clatinx)">
<polygon points="295.9,57.0 303.1,55.5 309.4,54.3 311.5,54.8 315.5,51.8 316.5,51.2 320.3,53.4 325.8,53.4 327.8,52.9 330.6,53.4 332.8,51.0 335.0,50.1 336.6,51.2 339.8,54.5 344.2,56.2 345.7,55.3 348.6,54.3 348.6,51.0 350.6,48.5 353.6,46.0 356.3,43.8 358.9,43.8 360.9,40.8 358.7,36.4 359.5,36.2 362.8,40.0 364.4,38.4 367.1,37.3 369.8,34.5 375.3,30.1 377.9,28.5 380.1,23.6 381.2,23.0 382.8,24.7 389.3,25.1 389.3,25.9 383.5,26.0 383.9,28.0 383.3,29.5 381.9,27.6 379.2,31.2 379.2,35.1 383.9,35.1 383.9,47.7 400.3,47.8 400.3,44.5 402.5,42.3 404.1,42.9 404.1,45.6 406.9,47.6 431.2,47.6 422.2,53.7 431.4,53.8 431.4,59.9 435.9,63.4 438.0,64.5 439.1,64.0 440.7,64.5 441.3,68.9 444.6,69.5 445.7,72.7 448.8,72.7 451.6,71.1 453.8,72.2 456.5,73.3 459.1,73.3 459.7,75.7 467.3,75.7 467.3,76.7 459.7,76.7 459.7,79.3 456.0,79.3 456.0,74.4 453.8,73.8 451.6,72.8 448.8,74.4 446.6,77.1 443.5,79.3 436.4,79.6 436.4,73.8 439.1,73.3 438.0,68.9 436.4,66.7 431.5,66.7 425.0,67.3 425.0,70.0 421.8,71.6 420.1,73.3 420.1,76.6 423.9,77.1 423.9,82.6 416.9,83.0 416.9,85.2 413.2,85.2 413.2,93.4 420.8,93.4 421.3,91.2 421.8,93.5 426.8,94.4 426.8,98.6 420.8,98.9 420.8,104.4 413.8,104.9 413.8,105.7 415.4,109.3 413.2,110.4 405.1,111.0 405.1,120.8 397.4,120.8 397.4,118.6 396.4,117.5 390.4,118.0 390.4,128.9 386.1,132.7 383.9,136.6 381.2,137.1 381.2,143.1 377.3,143.1 377.3,133.3 369.8,133.3 369.8,131.6 373.1,130.5 373.1,127.8 366.0,125.6 362.8,125.6 362.8,130.0 362.2,130.0 362.2,140.4 365.5,140.4 365.5,149.7 359.8,149.7 359.8,146.4 353.6,146.4 353.6,140.4 360.0,140.4 360.0,130.0 357.8,130.0 357.8,125.6 345.6,125.6 345.6,114.5 342.3,114.5 342.3,105.7 334.7,105.7 334.7,117.7 333.6,117.7 333.6,124.3 330.3,124.3 330.3,115.0 326.6,115.0 326.6,109.0 329.2,108.4 329.2,101.3 317.9,100.2 318.6,95.5 310.5,95.5 310.5,98.8 303.0,98.8 303.0,95.9 309.5,95.9 309.5,92.8 303.0,92.8 303.0,89.5 318.6,89.5 318.6,84.6 310.5,84.6 310.5,72.0 306.2,70.0 306.2,76.4 298.6,76.4 298.6,62.2 299.1,61.6" fill="#8c8c8c"/>
<polygon points="431.8,59.0 468.4,59.0 468.4,80.0 431.8,80.0" fill="#dcdcdc"/>
<polygon points="399.1,41.0 408.0,41.0 408.0,48.5 399.1,48.5" fill="#dcdcdc"/>
<polygon points="377.3,27.0 384.3,27.0 384.3,36.0 377.3,36.0" fill="#dcdcdc"/>
<polygon points="379.3,22.0 391.2,22.0 391.2,28.0 379.3,28.0" fill="#dcdcdc"/>
<polygon points="356.6,34.0 363.5,34.0 363.5,43.0 356.6,43.0" fill="#dcdcdc"/>
<polygon points="306.4,49.6 349.1,49.6 349.1,26.6 380.0,16.7 380.0,59.4 345.8,59.4 308.1,59.4" fill="#dcdcdc"/>
<polygon points="329.4,56.1 355.7,56.1 355.7,74.2 329.4,74.2" fill="#b4b4b4"/>
<polygon points="293.3,55.3 308.1,54.5 314.6,59.4 314.6,63.5 299.0,63.5" fill="#8c8c8c"/>
<polygon points="299.0,62.7 312.2,62.7 312.2,76.7 299.0,76.7" fill="#8c8c8c"/>
<polygon points="314.6,61.1 325.3,67.6 317.9,74.2 311.3,69.3" fill="#666666"/>
<polygon points="311.3,71.7 316.3,70.1 322.0,75.8 311.3,75.8" fill="#404040"/>
<polygon points="314.6,59.4 327.8,59.4 327.8,67.6 325.3,67.6" fill="#b4b4b4"/>
<polygon points="368.8,41.3 377.0,41.3 377.0,50.4 368.8,50.4" fill="#b4b4b4"/>
<polygon points="370.5,44.6 377.0,44.6 377.0,50.4 370.5,50.4" fill="#8c8c8c"/>
<polygon points="345.0,53.7 360.6,53.7 360.6,59.4 345.0,59.4" fill="#8c8c8c"/>
<polygon points="346.7,56.9 360.6,56.9 360.6,60.2 346.7,60.2" fill="#666666"/>
<polygon points="377.0,52.8 380.0,52.8 380.0,59.4 377.0,59.4" fill="#b4b4b4"/>
<polygon points="311.3,75.8 380.0,75.8 380.0,91.9 311.3,91.9" fill="#8c8c8c"/>
<polygon points="354.0,66.8 362.2,66.8 362.2,74.2 354.0,74.2" fill="#666666"/>
<polygon points="358.1,74.2 367.2,74.2 367.2,79.1 358.1,79.1" fill="#404040"/>
<polygon points="322.8,82.4 380.0,82.4 380.0,91.9 322.8,91.9" fill="#666666"/>
<polygon points="360.6,79.1 380.0,79.1 380.0,91.9 360.6,91.9" fill="#404040"/>
<polygon points="339.3,69.3 347.5,69.3 347.5,77.5 339.3,77.5" fill="#b4b4b4"/>
<polygon points="363.9,66.0 375.4,66.0 375.4,72.5 363.9,72.5" fill="#b4b4b4"/>
<polygon points="370.0,31.5 378.2,26.6 381.2,20.0 391.3,23.3 384.8,26.6 384.8,47.9 432.4,47.1 432.4,56.9 370.0,56.9" fill="#dcdcdc"/>
<polygon points="370.0,41.3 376.6,41.3 376.6,50.4 370.0,50.4" fill="#b4b4b4"/>
<polygon points="370.0,46.3 376.6,46.3 376.6,50.4 370.0,50.4" fill="#8c8c8c"/>
<polygon points="409.4,50.4 424.2,50.4 409.4,56.9" fill="#b4b4b4"/>
<polygon points="384.8,56.9 407.8,56.9 407.8,69.3 384.8,69.3" fill="#b4b4b4"/>
<polygon points="370.0,52.8 384.8,52.8 384.8,69.3 370.0,69.3" fill="#b4b4b4"/>
<polygon points="407.8,55.3 434.0,55.3 434.0,85.7 407.8,85.7" fill="#dcdcdc"/>
<polygon points="414.3,67.6 420.9,67.6 420.9,72.5 414.3,72.5" fill="#b4b4b4"/>
<polygon points="421.7,76.7 425.0,76.7 425.0,82.4 421.7,82.4" fill="#666666"/>
<polygon points="432.4,57.8 460.0,57.8 460.0,82.4 432.4,82.4" fill="#dcdcdc"/>
<polygon points="370.0,69.3 386.4,69.3 386.4,91.9 370.0,91.9" fill="#666666"/>
<polygon points="370.0,75.8 379.9,75.8 379.9,91.9 370.0,91.9" fill="#404040"/>
<polygon points="392.2,66.0 405.3,66.0 405.3,80.8 392.2,80.8" fill="#8c8c8c"/>
<polygon points="384.0,79.1 417.6,79.1 417.6,91.9 384.0,91.9" fill="#b4b4b4"/>
<polygon points="394.6,59.4 402.0,59.4 402.0,63.5 394.6,63.5" fill="#8c8c8c"/>
<polygon points="386.4,69.3 392.2,69.3 392.2,79.1 386.4,79.1" fill="#b4b4b4"/>
<polygon points="309.9,80.0 390.0,80.0 390.0,99.7 309.9,99.7" fill="#8c8c8c"/>
<polygon points="357.5,89.9 382.1,89.9 382.1,106.3 357.5,106.3" fill="#666666"/>
<polygon points="334.5,96.4 360.8,96.4 360.8,108.7 334.5,108.7" fill="#404040"/>
<polygon points="337.8,108.7 349.3,108.7 349.3,112.8 337.8,112.8" fill="#404040"/>
<polygon points="357.5,104.6 369.0,104.6 390.0,122.7 390.0,134.2 382.1,134.2 365.7,117.8 357.5,117.8" fill="#404040"/>
<polygon points="346.0,112.8 357.5,112.8 357.5,125.2 346.0,125.2" fill="#8c8c8c"/>
<polygon points="363.2,112.0 369.0,112.0 382.1,126.0 382.1,134.2 372.2,129.3" fill="#b4b4b4"/>
<polygon points="370.6,126.0 385.4,126.0 385.4,134.2 370.6,134.2" fill="#8c8c8c"/>
<polygon points="329.6,99.7 334.5,99.7 334.5,109.6 329.6,109.6" fill="#b4b4b4"/>
<polygon points="326.3,111.2 335.3,111.2 335.3,114.5 326.3,114.5" fill="#404040"/>
<polygon points="330.4,114.5 333.7,114.5 333.7,123.5 330.4,123.5" fill="#666666"/>
<polygon points="358.3,119.4 365.7,119.4 365.7,126.0 358.3,126.0" fill="#666666"/>
<polygon points="359.9,126.0 362.4,126.0 362.4,139.9 359.9,139.9" fill="#666666"/>
<polygon points="354.2,139.9 365.7,139.9 365.7,146.5 354.2,146.5" fill="#404040"/>
<polygon points="359.9,146.5 364.9,146.5 364.9,149.0 359.9,149.0" fill="#8c8c8c"/>
<polygon points="377.2,136.7 381.3,136.7 381.3,143.2 377.2,143.2" fill="#404040"/>
<polygon points="382.1,111.2 390.0,111.2 390.0,117.8 382.1,117.8" fill="#404040"/>
<polygon points="303.3,89.9 318.1,89.9 318.1,92.3 303.3,92.3" fill="#8c8c8c"/>
<polygon points="302.5,95.6 309.9,95.6 309.9,98.4 302.5,98.4" fill="#dcdcdc"/>
<polygon points="316.4,83.3 329.6,83.3 329.6,89.9 316.4,89.9" fill="#b4b4b4"/>
<polygon points="326.3,86.6 342.7,86.6 342.7,96.4 326.3,96.4" fill="#666666"/>
<polygon points="346.0,86.6 354.2,86.6 354.2,93.1 346.0,93.1" fill="#b4b4b4"/>
<polygon points="339.4,83.3 347.6,83.3 347.6,88.2 339.4,88.2" fill="#404040"/>
<polygon points="354.2,80.0 365.7,80.0 365.7,86.6 354.2,86.6" fill="#404040"/>
<polygon points="384.0,80.0 429.1,80.0 429.1,104.6 384.0,104.6" fill="#b4b4b4"/>
<polygon points="389.7,80.0 397.1,80.0 397.1,84.9 389.7,84.9" fill="#8c8c8c"/>
<polygon points="405.3,104.6 416.8,104.6 416.8,110.4 405.3,110.4" fill="#8c8c8c"/>
<polygon points="397.9,107.1 405.3,107.1 405.3,111.2 397.9,111.2" fill="#dcdcdc"/>
<polygon points="397.9,111.2 405.3,111.2 405.3,120.2 397.9,120.2" fill="#b4b4b4"/>
<polygon points="385.6,110.4 397.9,110.4 397.9,116.9 385.6,116.9" fill="#b4b4b4"/>
<polygon points="370.0,80.0 383.1,80.0 383.1,91.5 370.0,91.5" fill="#666666"/>
<polygon points="370.0,98.1 381.5,98.1 381.5,107.9 370.0,107.9" fill="#404040"/>
<polygon points="381.5,91.5 389.7,91.5 389.7,110.4 381.5,110.4" fill="#666666"/>
<polygon points="390.5,103.0 397.9,103.0 397.9,110.4 390.5,110.4" fill="#8c8c8c"/>
<polygon points="393.0,101.3 397.9,101.3 397.9,104.6 393.0,104.6" fill="#666666"/>
<polygon points="370.0,107.9 385.6,107.9 385.6,116.1 370.0,116.1" fill="#8c8c8c"/>
<polygon points="370.0,115.3 390.5,121.1 390.5,129.3 383.1,134.2 376.6,126.0 370.0,119.4" fill="#404040"/>
<polygon points="370.0,119.4 376.6,126.0 383.1,134.2 382.3,136.7 373.3,135.8 370.0,129.3" fill="#8c8c8c"/>
<polygon points="377.4,137.5 381.5,137.5 381.5,143.2 377.4,143.2" fill="#404040"/>
<polygon points="306.0,53.3 332.2,50.0 346.5,50.0 346.5,71.9 331.1,71.9 331.1,60.4 307.0,60.4" fill="#dcdcdc"/>
<polygon points="329.5,56.6 333.3,56.6 333.3,64.2 329.5,64.2" fill="#b4b4b4"/>
<polygon points="338.8,56.6 345.4,56.6 345.4,59.9 338.8,59.9" fill="#b4b4b4"/>
<polygon points="295.0,56.0 309.2,54.4 314.2,59.9 325.7,60.4 325.7,64.2 320.2,71.9 311.4,71.9 311.4,67.5 303.8,61.0 295.0,58.2" fill="#8c8c8c"/>
<polygon points="303.8,60.4 314.2,60.4 314.2,67.5 311.4,67.5" fill="#b4b4b4"/>
<polygon points="298.8,63.1 306.0,63.1 306.0,75.7 298.8,75.7" fill="#8c8c8c"/>
<polygon points="306.0,66.4 311.4,66.4 311.4,71.9 306.0,71.9" fill="#8c8c8c"/>
<polygon points="320.2,71.9 333.3,71.9 333.3,77.4 320.2,77.4" fill="#8c8c8c"/>
<polygon points="311.4,74.6 315.8,70.8 321.8,75.7" fill="#404040"/>
<polygon points="321.3,71.9 326.2,67.5 330.0,71.9" fill="#dcdcdc"/>
<polygon points="311.4,76.3 318.5,76.3 318.5,83.4 311.4,83.4" fill="#8c8c8c"/>
<polygon points="318.5,77.4 330.0,77.4 330.0,82.9 318.5,82.9" fill="#b4b4b4"/>
<polygon points="345.4,54.4 355.0,54.4 355.0,59.9 345.4,59.9" fill="#666666"/>
<polygon points="345.9,64.2 355.0,64.2 355.0,76.3 345.9,76.3" fill="#b4b4b4"/>
<polygon points="346.5,59.9 355.0,59.9 355.0,64.2 346.5,64.2" fill="#dcdcdc"/>
<polygon points="311.4,83.4 333.3,83.4 333.3,98.0 311.4,98.0" fill="#8c8c8c"/>
<polygon points="302.7,89.4 327.9,89.4 327.9,92.2 302.7,92.2" fill="#8c8c8c"/>
<polygon points="326.2,82.9 333.3,82.9 333.3,86.1 326.2,86.1" fill="#404040"/>
<polygon points="326.8,89.4 333.3,89.4 333.3,94.9 326.8,94.9" fill="#666666"/>
<polygon points="318.5,86.1 326.2,86.1 326.2,89.4 318.5,89.4" fill="#666666"/>
<polygon points="333.3,77.4 355.0,77.4 355.0,98.0 333.3,98.0" fill="#8c8c8c"/>
<polygon points="333.3,78.5 341.0,78.5 341.0,86.1 333.3,86.1" fill="#666666"/>
<polygon points="334.4,79.6 338.8,79.6 338.8,85.0 334.4,85.0" fill="#404040"/>
<polygon points="343.2,86.1 355.0,86.1 355.0,98.0 343.2,98.0" fill="#666666"/>
<polygon points="338.8,93.8 346.5,93.8 346.5,98.0 338.8,98.0" fill="#404040"/>
<polygon points="345.9,86.1 352.0,86.1 352.0,90.5 345.9,90.5" fill="#b4b4b4"/>
<polygon points="333.3,71.9 341.0,71.9 341.0,76.3 333.3,76.3" fill="#b4b4b4"/>
<polygon points="325.7,64.2 329.5,64.2 355.0,91.1 355.0,95.5" fill="#666666"/>
<polygon points="345.0,55.0 361.4,55.0 361.4,59.4 345.0,59.4" fill="#8c8c8c"/>
<polygon points="351.6,56.1 361.4,56.1 361.4,59.4 351.6,59.4" fill="#666666"/>
<polygon points="345.0,59.4 354.9,59.4 354.9,76.9 345.0,76.9" fill="#dcdcdc"/>
<polygon points="345.0,71.4 349.4,71.4 349.4,76.9 345.0,76.9" fill="#b4b4b4"/>
<polygon points="354.9,66.0 365.8,66.0 365.8,76.9 354.9,76.9" fill="#666666"/>
<polygon points="354.9,66.0 359.2,66.0 359.2,72.5 354.9,72.5" fill="#8c8c8c"/>
<polygon points="358.1,72.5 365.8,72.5 365.8,78.5 358.1,78.5" fill="#404040"/>
<polygon points="361.4,57.2 373.5,57.2 373.5,66.0 361.4,66.0" fill="#dcdcdc"/>
<polygon points="361.4,59.4 366.9,59.4 366.9,66.0 361.4,66.0" fill="#b4b4b4"/>
<polygon points="365.8,66.0 372.4,66.0 372.4,70.3 365.8,70.3" fill="#dcdcdc"/>
<polygon points="369.6,59.9 373.5,59.9 373.5,63.8 369.6,63.8" fill="#8c8c8c"/>
<polygon points="373.5,59.4 384.4,59.4 384.4,72.5 373.5,72.5" fill="#b4b4b4"/>
<polygon points="384.4,57.2 405.0,57.2 405.0,66.0 384.4,66.0" fill="#b4b4b4"/>
<polygon points="397.6,59.4 402.0,59.4 402.0,63.8 397.6,63.8" fill="#8c8c8c"/>
<polygon points="385.5,55.0 405.0,55.0 405.0,57.2 385.5,57.2" fill="#dcdcdc"/>
<polygon points="392.1,66.0 405.0,66.0 405.0,72.5 392.1,72.5" fill="#8c8c8c"/>
<polygon points="394.3,72.5 397.6,72.5 397.6,79.1 394.3,79.1" fill="#dcdcdc"/>
<polygon points="383.3,72.5 388.8,72.5 388.8,75.8 383.3,75.8" fill="#dcdcdc"/>
<polygon points="388.8,72.5 394.3,72.5 394.3,79.1 388.8,79.1" fill="#b4b4b4"/>
<polygon points="345.0,76.9 383.3,76.9 383.3,87.9 345.0,87.9" fill="#8c8c8c"/>
<polygon points="351.6,80.2 360.3,80.2 360.3,85.7 351.6,85.7" fill="#666666"/>
<polygon points="360.3,79.6 365.3,79.6 365.3,84.6 360.3,84.6" fill="#dcdcdc"/>
<polygon points="365.8,81.3 383.3,81.3 383.3,87.9 365.8,87.9" fill="#666666"/>
<polygon points="377.9,75.8 383.3,75.8 383.3,79.6 377.9,79.6" fill="#b4b4b4"/>
<polygon points="369.6,75.8 373.5,75.8 373.5,79.6 369.6,79.6" fill="#b4b4b4"/>
<polygon points="383.3,79.1 405.0,79.1 405.0,92.2 383.3,92.2" fill="#b4b4b4"/>
<polygon points="389.9,79.6 396.5,79.6 396.5,85.7 389.9,85.7" fill="#8c8c8c"/>
<polygon points="400.9,80.2 405.0,80.2 405.0,86.8 400.9,86.8" fill="#8c8c8c"/>
<polygon points="345.0,87.9 383.3,87.9 383.3,103.0 345.0,103.0" fill="#666666"/>
<polygon points="345.0,85.7 351.6,85.7 351.6,92.2 345.0,92.2" fill="#8c8c8c"/>
<polygon points="350.5,92.2 353.8,92.2 353.8,95.5 350.5,95.5" fill="#b4b4b4"/>
<polygon points="361.4,95.5 368.0,95.5 368.0,98.8 361.4,98.8" fill="#8c8c8c"/>
<polygon points="359.2,98.8 383.3,98.8 383.3,103.0 359.2,103.0" fill="#404040"/>
<polygon points="370.2,87.9 377.9,87.9 377.9,92.2 370.2,92.2" fill="#404040"/>
<polygon points="370.2,92.2 374.0,92.2 374.0,94.4 370.2,94.4" fill="#b4b4b4"/>
<polygon points="383.3,92.2 405.0,92.2 405.0,103.0 383.3,103.0" fill="#8c8c8c"/>
<polygon points="381.1,92.2 391.0,92.2 391.0,98.8 381.1,98.8" fill="#666666"/>
<polygon points="397.6,98.8 405.0,98.8 405.0,103.0 397.6,103.0" fill="#666666"/>
<polygon points="311.0,75.0 326.3,75.0 326.3,86.0 311.0,86.0" fill="#8c8c8c"/>
<polygon points="318.6,78.3 326.3,78.3 326.3,82.7 318.6,82.7" fill="#b4b4b4"/>
<polygon points="311.0,75.0 321.9,75.0 321.9,77.2 311.0,77.2" fill="#666666"/>
<polygon points="311.0,86.0 360.0,86.0 360.0,100.2 311.0,100.2" fill="#666666"/>
<polygon points="311.0,86.0 318.6,86.0 318.6,94.7 311.0,94.7" fill="#8c8c8c"/>
<polygon points="318.1,94.7 334.0,94.7 334.0,100.0 318.1,100.0" fill="#8c8c8c"/>
<polygon points="332.9,75.0 360.0,75.0 360.0,86.0 332.9,86.0" fill="#8c8c8c"/>
<polygon points="326.3,82.7 335.0,82.7 335.0,86.0 326.3,86.0" fill="#404040"/>
<polygon points="318.6,89.2 334.0,89.2 334.0,94.7 318.6,94.7" fill="#666666"/>
<polygon points="326.3,89.2 334.0,89.2 334.0,92.5 326.3,92.5" fill="#404040"/>
<polygon points="343.8,86.0 351.5,86.0 351.5,91.4 343.8,91.4" fill="#8c8c8c"/>
<polygon points="348.2,84.9 351.5,84.9 351.5,90.3 348.2,90.3" fill="#dcdcdc"/>
<polygon points="351.5,79.4 360.0,79.4 360.0,83.8 351.5,83.8" fill="#b4b4b4"/>
<polygon points="336.1,79.4 343.8,79.4 343.8,86.0 336.1,86.0" fill="#666666"/>
<polygon points="329.6,81.6 334.0,81.6 360.0,106.8 360.0,111.1 354.8,107.9" fill="#666666"/>
<polygon points="334.0,95.8 338.3,95.8 338.3,104.6 334.0,104.6" fill="#404040"/>
<polygon points="338.3,98.5 360.0,98.5 360.0,111.1 338.3,111.1" fill="#404040"/>
<polygon points="348.2,100.2 360.0,100.2 360.0,105.7 348.2,105.7" fill="#666666"/>
<polygon points="329.6,100.2 334.0,100.2 334.0,111.1 329.6,111.1" fill="#b4b4b4"/>
<polygon points="326.3,111.7 331.8,111.7 331.8,114.4 326.3,114.4" fill="#404040"/>
<polygon points="330.1,115.5 333.4,115.5 333.4,123.0 330.1,123.0" fill="#666666"/>
<polygon points="346.0,111.1 360.0,111.1 360.0,123.0 346.0,123.0" fill="#8c8c8c"/>
<polygon points="352.6,111.1 360.0,111.1 360.0,118.8 352.6,118.8" fill="#666666"/>
<polygon points="302.7,89.2 318.6,89.2 318.6,92.0 302.7,92.0" fill="#8c8c8c"/>
<polygon points="302.7,95.8 310.4,95.8 310.4,98.5 302.7,98.5" fill="#dcdcdc"/>
<polygon points="330.0,97.2 334.4,97.2 334.4,107.0 330.0,107.0" fill="#b4b4b4"/>
<polygon points="334.4,95.0 381.5,95.0 381.5,98.3 334.4,98.3" fill="#666666"/>
<polygon points="351.9,95.0 366.1,95.0 366.1,97.7 351.9,97.7" fill="#8c8c8c"/>
<polygon points="334.4,97.7 354.1,97.7 354.1,108.1 334.4,108.1" fill="#404040"/>
<polygon points="351.9,98.3 381.5,98.3 381.5,107.6 351.9,107.6" fill="#404040"/>
<polygon points="349.7,99.4 362.9,99.4 362.9,107.0 349.7,107.0" fill="#666666"/>
<polygon points="366.1,100.5 373.8,100.5 373.8,104.9 366.1,104.9" fill="#666666"/>
<polygon points="343.1,108.1 358.5,108.1 358.5,124.6 343.1,124.6" fill="#8c8c8c"/>
<polygon points="346.4,111.4 354.1,111.4 354.1,116.9 346.4,116.9" fill="#666666"/>
<polygon points="358.5,109.2 365.0,109.2 365.0,120.2 358.5,120.2" fill="#666666"/>
<polygon points="358.5,120.2 365.0,120.2 365.0,130.0 358.5,130.0" fill="#8c8c8c"/>
<polygon points="351.9,107.0 362.9,107.0 362.9,111.4 351.9,111.4" fill="#404040"/>
<polygon points="365.0,108.1 381.5,108.1 381.5,116.9 365.0,116.9" fill="#8c8c8c"/>
<polygon points="373.8,108.1 378.2,108.1 378.2,112.5 373.8,112.5" fill="#b4b4b4"/>
<polygon points="381.5,108.1 387.0,108.1 387.0,111.4 381.5,111.4" fill="#dcdcdc"/>
<polygon points="381.5,95.0 390.0,95.0 390.0,115.8 381.5,115.8" fill="#666666"/>
<polygon points="384.8,99.4 390.0,99.4 390.0,107.0 384.8,107.0" fill="#8c8c8c"/>
<polygon points="365.0,116.9 373.8,116.9 373.8,125.7 365.0,125.7" fill="#8c8c8c"/>
<polygon points="369.4,115.8 390.0,115.8 390.0,131.1 382.6,131.1" fill="#404040"/>
<polygon points="362.9,111.4 370.5,111.4 382.6,131.1 378.2,131.1 367.2,118.0" fill="#b4b4b4"/>
<polygon points="373.8,125.7 381.5,125.7 381.5,136.6 373.8,136.6" fill="#8c8c8c"/>
<polygon points="360.1,124.6 362.3,124.6 362.3,139.9 360.1,139.9" fill="#666666"/>
<polygon points="354.1,139.9 366.1,139.9 366.1,143.0 354.1,143.0" fill="#404040"/>
<polygon points="378.2,137.7 381.5,137.7 381.5,143.0 378.2,143.0" fill="#404040"/>
<polygon points="331.1,114.7 334.4,114.7 334.4,123.5 331.1,123.5" fill="#666666"/>
<polygon points="396.0,95.0 421.1,95.0 421.1,104.6 396.0,104.6" fill="#b4b4b4"/>
<polygon points="421.1,95.0 428.8,95.0 428.8,99.4 421.1,99.4" fill="#b4b4b4"/>
<polygon points="405.8,104.9 414.0,104.9 416.8,108.7 414.0,110.3 405.8,110.3" fill="#8c8c8c"/>
<polygon points="398.1,106.5 405.5,106.5 405.5,110.9 398.1,110.9" fill="#dcdcdc"/>
<polygon points="398.1,110.9 405.5,110.9 405.5,121.3 398.1,121.3" fill="#b4b4b4"/>
<polygon points="389.4,101.6 398.1,101.6 398.1,110.9 389.4,110.9" fill="#b4b4b4"/>
<polygon points="393.8,101.6 398.1,101.6 398.1,104.9 393.8,104.9" fill="#666666"/>
<polygon points="398.1,99.4 405.8,99.4 405.8,101.6 398.1,101.6" fill="#8c8c8c"/>
<polygon points="386.1,110.9 398.1,110.9 398.1,116.9 386.1,116.9" fill="#8c8c8c"/>
<polygon points="385.0,95.0 396.0,95.0 396.0,101.6 385.0,101.6" fill="#666666"/>
<polygon points="385.0,101.6 389.4,101.6 389.4,111.4 385.0,111.4" fill="#666666"/>
<polygon points="395.0,47.8 438.8,47.8 438.8,54.4 395.0,54.4" fill="#dcdcdc"/>
<polygon points="407.0,54.4 438.8,54.4 438.8,82.9 407.0,82.9" fill="#dcdcdc"/>
<polygon points="395.0,54.4 409.2,54.4 421.3,54.4 408.1,60.4 395.0,60.4" fill="#b4b4b4"/>
<polygon points="414.2,67.0 421.3,67.0 421.3,72.5 414.2,72.5" fill="#b4b4b4"/>
<polygon points="421.3,76.8 425.1,76.8 425.1,82.3 421.3,82.3" fill="#666666"/>
<polygon points="395.0,60.4 406.0,60.4 406.0,79.6 395.0,79.6" fill="#b4b4b4"/>
<polygon points="397.2,66.4 401.6,66.4 401.6,77.4 397.2,77.4" fill="#8c8c8c"/>
<polygon points="401.6,64.2 406.0,64.2 406.0,67.5 401.6,67.5" fill="#404040"/>
<polygon points="401.6,60.4 407.0,60.4 407.0,64.2 401.6,64.2" fill="#dcdcdc"/>
<polygon points="395.0,79.6 416.9,79.6 416.9,86.1 395.0,86.1" fill="#b4b4b4"/>
<polygon points="395.0,86.1 412.5,86.1 412.5,98.0 395.0,98.0" fill="#b4b4b4"/>
<polygon points="412.5,92.7 427.9,92.7 427.9,98.0 412.5,98.0" fill="#b4b4b4"/>
<polygon points="401.6,80.7 406.0,80.7 406.0,84.0 401.6,84.0" fill="#8c8c8c"/>
<polygon points="432.3,60.0 468.4,60.0 468.4,80.0 432.3,80.0" fill="#e4e4e4"/>
<polygon points="460.1,74.5 469.4,74.5 469.4,78.0 460.1,78.0" fill="#ffffff"/>
</g></g>
<clipPath id="cincome"><polygon points="290.1,257.8 297.4,256.3 303.8,255.1 305.9,255.6 309.9,252.6 310.9,252.0 314.8,254.2 320.3,254.2 322.4,253.7 325.2,254.2 327.4,251.8 329.6,250.9 331.2,252.0 334.5,255.3 338.9,257.0 340.4,256.1 343.4,255.1 343.4,251.8 345.4,249.3 348.4,246.8 351.1,244.6 353.8,244.6 355.8,241.6 353.6,237.2 354.4,237.0 357.7,240.8 359.3,239.2 362.0,238.1 364.8,235.3 370.3,230.9 373.0,229.3 375.2,224.4 376.3,223.8 377.9,225.5 384.5,225.9 384.5,226.7 378.6,226.8 379.0,228.8 378.4,230.3 377.0,228.4 374.3,232.0 374.3,235.9 379.0,235.9 379.0,248.5 395.6,248.6 395.6,245.3 397.8,243.1 399.4,243.7 399.4,246.4 402.2,248.4 426.8,248.4 417.7,254.5 427.0,254.6 427.0,260.7 431.5,264.2 433.7,265.3 434.8,264.8 436.4,265.3 437.0,269.7 440.3,270.3 441.4,273.5 444.6,273.5 447.4,271.9 449.6,273.0 452.3,274.1 455.0,274.1 455.6,276.5 463.3,276.5 463.3,277.5 455.6,277.5 455.6,280.1 451.8,280.1 451.8,275.2 449.6,274.6 447.4,273.6 444.6,275.2 442.4,277.9 439.2,280.1 432.0,280.4 432.0,274.6 434.8,274.1 433.7,269.7 432.0,267.5 427.1,267.5 420.5,268.1 420.5,270.8 417.3,272.4 415.6,274.1 415.6,277.4 419.4,277.9 419.4,283.4 412.4,283.8 412.4,286.0 408.6,286.0 408.6,294.2 416.3,294.2 416.8,292.0 417.3,294.3 422.3,295.2 422.3,299.4 416.3,299.7 416.3,305.2 409.2,305.7 409.2,306.5 410.8,310.1 408.6,311.2 400.4,311.8 400.4,321.6 392.7,321.6 392.7,319.4 391.6,318.3 385.6,318.8 385.6,329.7 381.2,333.5 379.0,337.4 376.3,337.9 376.3,343.9 372.4,343.9 372.4,334.1 364.8,334.1 364.8,332.4 368.1,331.3 368.1,328.6 360.9,326.4 357.7,326.4 357.7,330.8 357.1,330.8 357.1,341.2 360.4,341.2 360.4,350.5 354.7,350.5 354.7,347.2 348.4,347.2 348.4,341.2 354.9,341.2 354.9,330.8 352.7,330.8 352.7,326.4 340.3,326.4 340.3,315.3 337.0,315.3 337.0,306.5 329.3,306.5 329.3,318.5 328.2,318.5 328.2,325.1 324.9,325.1 324.9,315.8 321.1,315.8 321.1,309.8 323.8,309.2 323.8,302.1 312.3,301.0 313.1,296.3 304.9,296.3 304.9,299.6 297.3,299.6 297.3,296.7 303.9,296.7 303.9,293.6 297.3,293.6 297.3,290.3 313.1,290.3 313.1,285.4 304.9,285.4 304.9,272.8 300.5,270.8 300.5,277.2 292.9,277.2 292.9,263.0 293.4,262.4"/></clipPath>
<g filter="url(#soft)"><g clip-path="url(#cincome)">
<polygon points="290.1,257.8 297.4,256.3 303.8,255.1 305.9,255.6 309.9,252.6 310.9,252.0 314.8,254.2 320.3,254.2 322.4,253.7 325.2,254.2 327.4,251.8 329.6,250.9 331.2,252.0 334.5,255.3 338.9,257.0 340.4,256.1 343.4,255.1 343.4,251.8 345.4,249.3 348.4,246.8 351.1,244.6 353.8,244.6 355.8,241.6 353.6,237.2 354.4,237.0 357.7,240.8 359.3,239.2 362.0,238.1 364.8,235.3 370.3,230.9 373.0,229.3 375.2,224.4 376.3,223.8 377.9,225.5 384.5,225.9 384.5,226.7 378.6,226.8 379.0,228.8 378.4,230.3 377.0,228.4 374.3,232.0 374.3,235.9 379.0,235.9 379.0,248.5 395.6,248.6 395.6,245.3 397.8,243.1 399.4,243.7 399.4,246.4 402.2,248.4 426.8,248.4 417.7,254.5 427.0,254.6 427.0,260.7 431.5,264.2 433.7,265.3 434.8,264.8 436.4,265.3 437.0,269.7 440.3,270.3 441.4,273.5 444.6,273.5 447.4,271.9 449.6,273.0 452.3,274.1 455.0,274.1 455.6,276.5 463.3,276.5 463.3,277.5 455.6,277.5 455.6,280.1 451.8,280.1 451.8,275.2 449.6,274.6 447.4,273.6 444.6,275.2 442.4,277.9 439.2,280.1 432.0,280.4 432.0,274.6 434.8,274.1 433.7,269.7 432.0,267.5 427.1,267.5 420.5,268.1 420.5,270.8 417.3,272.4 415.6,274.1 415.6,277.4 419.4,277.9 419.4,283.4 412.4,283.8 412.4,286.0 408.6,286.0 408.6,294.2 416.3,294.2 416.8,292.0 417.3,294.3 422.3,295.2 422.3,299.4 416.3,299.7 416.3,305.2 409.2,305.7 409.2,306.5 410.8,310.1 408.6,311.2 400.4,311.8 400.4,321.6 392.7,321.6 392.7,319.4 391.6,318.3 385.6,318.8 385.6,329.7 381.2,333.5 379.0,337.4 376.3,337.9 376.3,343.9 372.4,343.9 372.4,334.1 364.8,334.1 364.8,332.4 368.1,331.3 368.1,328.6 360.9,326.4 357.7,326.4 357.7,330.8 357.1,330.8 357.1,341.2 360.4,341.2 360.4,350.5 354.7,350.5 354.7,347.2 348.4,347.2 348.4,341.2 354.9,341.2 354.9,330.8 352.7,330.8 352.7,326.4 340.3,326.4 340.3,315.3 337.0,315.3 337.0,306.5 329.3,306.5 329.3,318.5 328.2,318.5 328.2,325.1 324.9,325.1 324.9,315.8 321.1,315.8 321.1,309.8 323.8,309.2 323.8,302.1 312.3,301.0 313.1,296.3 304.9,296.3 304.9,299.6 297.3,299.6 297.3,296.7 303.9,296.7 303.9,293.6 297.3,293.6 297.3,290.3 313.1,290.3 313.1,285.4 304.9,285.4 304.9,272.8 300.5,270.8 300.5,277.2 292.9,277.2 292.9,263.0 293.4,262.4" fill="#ffd24d"/>
<polygon points="287.4,253.8 312.4,253.8 312.4,259.8 287.4,259.8" fill="#800000"/>
<polygon points="453.4,273.8 464.4,273.8 464.4,280.8 453.4,280.8" fill="#800000"/>
<polygon points="394.4,241.8 403.4,241.8 403.4,249.3 394.4,249.3" fill="#800000"/>
<polygon points="372.4,227.8 379.4,227.8 379.4,236.8 372.4,236.8" fill="#800000"/>
<polygon points="374.4,222.8 386.4,222.8 386.4,228.8 374.4,228.8" fill="#800000"/>
<polygon points="351.4,234.8 358.4,234.8 358.4,243.8 351.4,243.8" fill="#800000"/>
<polygon points="304.7,271.3 375.0,271.3 375.0,293.9 304.7,293.9" fill="#ffff80"/>
<polygon points="306.3,276.2 326.1,276.2 326.1,293.9 306.3,293.9" fill="#ffd24d"/>
<polygon points="347.4,277.8 360.5,277.8 360.5,293.9 347.4,293.9" fill="#ffd24d"/>
<polygon points="288.3,254.8 301.4,253.2 311.3,249.9 324.4,253.2 329.3,249.1 339.2,255.7 339.2,271.3 344.1,271.3 344.1,281.1 326.1,281.1 326.1,271.3 321.9,271.3 321.9,261.4 309.6,259.8 303.1,257.3" fill="#800000"/>
<polygon points="291.6,263.1 301.4,261.4 311.3,271.3 301.4,277.0 293.2,277.0" fill="#800000"/>
<polygon points="289.1,257.3 303.1,255.7 322.8,271.3 316.2,271.3" fill="#c85000"/>
<polygon points="309.6,253.2 323.6,253.2 323.6,261.4 309.6,261.4" fill="#c85000"/>
<polygon points="316.2,271.3 322.8,271.3 350.7,293.9 340.8,293.9" fill="#ffd24d"/>
<polygon points="340.8,246.6 357.2,246.6 357.2,276.2 340.8,276.2" fill="#c85000"/>
<polygon points="339.2,257.3 354.0,241.7 375.0,225.3 375.0,248.3 370.4,248.3 370.4,263.1 363.8,271.3 357.2,261.4 357.2,248.3 350.7,248.3 347.4,257.3" fill="#800000"/>
<polygon points="348.2,254.8 357.2,254.8 357.2,268.0 348.2,268.0" fill="#ffd24d"/>
<polygon points="347.4,268.0 357.2,268.0 357.2,276.2 347.4,276.2" fill="#ffa114"/>
<polygon points="357.2,259.8 367.1,259.8 367.1,271.3 357.2,271.3" fill="#c85000"/>
<polygon points="304.7,277.8 312.9,277.8 312.9,284.4 304.7,284.4" fill="#c85000"/>
<polygon points="309.6,286.9 322.8,286.9 322.8,293.9 309.6,293.9" fill="#c85000"/>
<polygon points="298.1,289.3 309.6,289.3 309.6,293.9 298.1,293.9" fill="#ffa114"/>
<polygon points="294.9,286.9 304.7,286.9 304.7,291.0 294.9,291.0" fill="#c85000"/>
<polygon points="363.8,271.3 375.0,271.3 375.0,279.5 363.8,279.5" fill="#ffa114"/>
<polygon points="316.2,269.9 320.3,269.9 320.3,273.2 316.2,273.2" fill="#ffffff"/>
<polygon points="337.2,260.6 340.8,260.6 340.8,264.4 337.2,264.4" fill="#ffffff"/>
<polygon points="365.0,220.4 379.8,220.4 379.8,249.9 365.0,249.9" fill="#800000"/>
<polygon points="365.0,248.3 430.7,248.3 430.7,261.4 365.0,261.4" fill="#800000"/>
<polygon points="404.4,254.8 455.0,254.8 455.0,293.9 404.4,293.9" fill="#800000"/>
<polygon points="399.5,249.1 403.6,249.1 403.6,254.0 399.5,254.0" fill="#ffffff"/>
<polygon points="371.6,248.3 379.0,248.3 379.0,251.6 371.6,251.6" fill="#c85000"/>
<polygon points="365.0,251.6 371.6,251.6 371.6,257.3 365.0,257.3" fill="#ffa114"/>
<polygon points="365.0,257.3 379.0,257.3 379.0,261.4 365.0,261.4" fill="#ffd24d"/>
<polygon points="379.8,254.8 383.1,254.8 383.1,257.3 379.8,257.3" fill="#c85000"/>
<polygon points="379.8,261.4 397.8,261.4 397.8,276.2 379.8,276.2" fill="#ffd24d"/>
<polygon points="368.3,264.7 379.8,264.7 379.8,276.2 368.3,276.2" fill="#ffff80"/>
<polygon points="379.0,261.4 386.3,261.4 386.3,266.3 379.0,266.3" fill="#c85000"/>
<polygon points="397.0,268.0 404.4,268.0 404.4,272.9 397.0,272.9" fill="#c85000"/>
<polygon points="392.9,272.9 400.3,272.9 400.3,279.5 392.9,279.5" fill="#c85000"/>
<polygon points="365.0,276.2 400.3,276.2 400.3,293.9 365.0,293.9" fill="#ffa114"/>
<polygon points="374.9,277.8 392.9,277.8 392.9,287.7 374.9,287.7" fill="#ffd24d"/>
<polygon points="365.0,276.2 374.9,276.2 374.9,293.9 365.0,293.9" fill="#ffff80"/>
<polygon points="392.9,287.7 409.3,287.7 409.3,293.9 392.9,293.9" fill="#800000"/>
<polygon points="321.3,285.3 344.3,285.3 344.3,313.2 321.3,313.2" fill="#ffd24d"/>
<polygon points="328.7,291.9 385.0,291.9 385.0,323.1 360.7,337.8 360.7,319.8 341.0,318.1 328.7,306.6" fill="#ffff80"/>
<polygon points="306.5,285.3 321.3,285.3 321.3,300.1 306.5,300.1" fill="#c85000"/>
<polygon points="304.9,282.0 314.7,282.0 314.7,286.9 304.9,286.9" fill="#ffa114"/>
<polygon points="297.5,289.4 306.5,289.4 306.5,292.7 297.5,292.7" fill="#ffd24d"/>
<polygon points="297.5,296.8 304.9,296.8 304.9,299.2 297.5,299.2" fill="#800000"/>
<polygon points="324.6,300.9 328.7,300.9 328.7,312.4 324.6,312.4" fill="#c85000"/>
<polygon points="321.3,311.6 325.4,311.6 325.4,314.8 321.3,314.8" fill="#ffa114"/>
<polygon points="325.4,314.8 328.7,314.8 328.7,325.5 325.4,325.5" fill="#ffd24d"/>
<polygon points="341.0,318.1 352.5,318.1 352.5,326.3 341.0,326.3" fill="#ffd24d"/>
<polygon points="352.5,314.8 360.7,314.8 360.7,328.0 352.5,328.0" fill="#ffa114"/>
<polygon points="365.6,314.8 372.2,314.8 380.4,324.7 377.1,331.3 365.6,319.8" fill="#ffa114"/>
<polygon points="360.7,321.4 377.1,321.4 377.1,338.7 360.7,338.7" fill="#ffff80"/>
<polygon points="353.3,326.3 357.4,326.3 357.4,341.1 353.3,341.1" fill="#ffa114"/>
<polygon points="349.2,341.1 354.1,341.1 354.1,346.9 349.2,346.9" fill="#c85000"/>
<polygon points="354.1,341.9 359.9,341.9 359.9,347.7 354.1,347.7" fill="#ffa114"/>
<polygon points="354.9,347.7 359.9,347.7 359.9,350.1 354.9,350.1" fill="#c85000"/>
<polygon points="372.2,337.8 376.3,337.8 376.3,343.6 372.2,343.6" fill="#ffa114"/>
<polygon points="341.8,287.7 345.9,287.7 345.9,291.0 341.8,291.0" fill="#800000"/>
<polygon points="344.3,282.0 352.5,282.0 352.5,286.9 344.3,286.9" fill="#c85000"/>
<polygon points="380.4,308.3 385.0,308.3 385.0,321.4 380.4,321.4" fill="#c85000"/>
<polygon points="347.5,306.6 352.5,306.6 352.5,310.7 347.5,310.7" fill="#ffffff"/>
<polygon points="365.0,282.0 392.9,282.0 392.9,288.6 365.0,288.6" fill="#ffa114"/>
<polygon points="373.2,288.6 392.9,288.6 392.9,305.8 373.2,305.8" fill="#ffd24d"/>
<polygon points="365.0,291.9 374.9,291.9 374.9,314.8 365.0,314.8" fill="#ffff80"/>
<polygon points="392.9,280.4 408.5,280.4 408.5,299.2 392.9,299.2" fill="#800000"/>
<polygon points="408.5,292.7 421.7,292.7 421.7,299.2 408.5,299.2" fill="#800000"/>
<polygon points="392.9,299.2 415.9,299.2 415.9,305.0 392.9,305.0" fill="#c85000"/>
<polygon points="384.7,305.8 410.2,305.8 410.2,311.6 384.7,311.6" fill="#800000"/>
<polygon points="392.1,311.6 400.3,311.6 400.3,321.4 392.1,321.4" fill="#800000"/>
<polygon points="380.6,311.6 392.1,311.6 392.1,321.4 380.6,321.4" fill="#c85000"/>
<polygon points="374.9,321.4 385.5,321.4 385.5,332.9 374.9,332.9" fill="#ffa114"/>
<polygon points="365.0,314.8 374.9,314.8 374.9,324.7 365.0,321.4" fill="#ffa114"/>
<polygon points="365.0,323.1 374.9,323.1 374.9,334.5 365.0,334.5" fill="#ffff80"/>
<polygon points="372.4,336.2 377.3,336.2 377.3,343.6 372.4,343.6" fill="#ffa114"/>
<polygon points="305.3,272.4 350.0,272.4 350.0,293.0 305.3,293.0" fill="#ffd24d"/>
<polygon points="299.9,253.8 313.5,253.8 313.5,260.3 306.4,260.3" fill="#800000"/>
<polygon points="293.3,264.2 301.0,264.2 309.7,271.3 301.0,272.4 301.0,276.8 293.3,276.8" fill="#800000"/>
<polygon points="310.3,249.4 322.9,251.6 322.9,260.3 310.3,260.3" fill="#c85000"/>
<polygon points="322.9,257.0 327.8,257.0 327.8,260.3 322.9,260.3" fill="#c85000"/>
<polygon points="322.9,256.0 327.8,249.4 331.1,249.4 333.8,256.0 339.3,256.5 339.3,260.3 344.8,260.3 344.8,276.8 326.1,276.8 326.1,271.3 321.8,266.9 321.8,260.3 322.9,260.3" fill="#800000"/>
<polygon points="337.1,261.4 340.9,261.4 340.9,265.3 337.1,265.3" fill="#ffffff"/>
<polygon points="325.0,264.2 328.9,264.2 328.9,267.5 325.0,267.5" fill="#c85000"/>
<polygon points="340.4,249.4 350.0,249.4 350.0,260.3 340.4,260.3" fill="#c85000"/>
<polygon points="344.8,260.3 350.0,260.3 350.0,277.9 344.8,277.9" fill="#c85000"/>
<polygon points="347.0,253.8 350.0,253.8 350.0,277.9 347.0,277.9" fill="#ffd24d"/>
<polygon points="313.5,260.3 321.2,260.3 321.2,266.9 326.1,271.3 326.1,276.8 339.3,277.9 350.0,284.4 350.0,288.8 333.8,280.0 322.9,273.5 315.2,271.3" fill="#ffa114"/>
<polygon points="290.0,256.5 302.0,255.4 317.4,265.8 320.7,270.2 310.8,271.3 301.0,264.2 290.0,258.7" fill="#c85000"/>
<polygon points="306.4,272.9 317.4,272.9 317.4,276.8 306.4,276.8" fill="#ffff80"/>
<polygon points="305.3,277.9 311.9,277.9 311.9,284.4 305.3,284.4" fill="#c85000"/>
<polygon points="309.2,284.4 318.5,284.4 318.5,293.0 309.2,293.0" fill="#c85000"/>
<polygon points="297.1,289.4 309.2,289.4 309.2,293.0 297.1,293.0" fill="#ffa114"/>
<polygon points="328.3,283.3 336.0,283.3 336.0,293.0 328.3,293.0" fill="#ffff80"/>
<polygon points="318.5,276.8 326.1,276.8 326.1,284.4 318.5,284.4" fill="#ffff80"/>
<polygon points="316.3,269.6 320.1,269.6 318.5,274.0" fill="#ffffff"/>
<polygon points="342.6,276.8 350.0,276.8 350.0,282.2 342.6,282.2" fill="#800000"/>
<polygon points="341.5,287.7 347.0,287.7 347.0,291.0 341.5,291.0" fill="#800000"/>
<polygon points="336.0,281.1 342.6,281.1 342.6,286.6 336.0,286.6" fill="#ffa114"/>
<polygon points="340.0,277.9 400.0,277.9 400.0,293.0 340.0,293.0" fill="#ffd24d"/>
<polygon points="352.0,266.9 360.8,266.9 360.8,277.9 352.0,277.9" fill="#ffa114"/>
<polygon points="340.0,249.4 351.0,249.4 351.0,281.1 340.0,281.1" fill="#c85000"/>
<polygon points="343.3,247.2 357.5,247.2 357.5,256.0 343.3,256.0" fill="#c85000"/>
<polygon points="356.4,253.8 367.4,253.8 367.4,266.9 356.4,266.9" fill="#c85000"/>
<polygon points="351.0,242.8 400.0,242.8 400.0,261.4 377.2,261.4 377.2,259.2 367.4,259.2 367.4,253.8 357.5,253.8 357.5,249.4 351.0,249.4" fill="#800000"/>
<polygon points="376.1,260.3 379.4,260.3 379.4,266.9 376.1,266.9" fill="#800000"/>
<polygon points="360.8,266.9 367.4,263.6 367.4,269.1 361.9,271.8" fill="#800000"/>
<polygon points="379.4,261.4 386.0,261.4 386.0,266.9 379.4,266.9" fill="#c85000"/>
<polygon points="371.8,248.3 378.9,248.3 378.9,251.0 371.8,251.0" fill="#c85000"/>
<polygon points="379.4,254.9 383.8,254.9 383.8,257.6 379.4,257.6" fill="#c85000"/>
<polygon points="347.7,254.9 356.4,254.9 356.4,266.9 347.7,266.9" fill="#ffd24d"/>
<polygon points="363.5,254.9 367.4,254.9 367.4,260.3 363.5,260.3" fill="#ffd24d"/>
<polygon points="347.7,260.3 352.0,260.3 352.0,266.9 347.7,266.9" fill="#ffa114"/>
<polygon points="367.4,264.2 377.2,264.2 377.2,273.5 367.4,273.5" fill="#ffff80"/>
<polygon points="360.8,271.3 386.0,271.3 386.0,277.9 360.8,277.9" fill="#ffff80"/>
<polygon points="386.0,261.4 400.0,261.4 400.0,277.9 386.0,277.9" fill="#ffd24d"/>
<polygon points="392.6,261.4 400.0,261.4 400.0,266.9 392.6,266.9" fill="#ffa114"/>
<polygon points="340.0,266.9 344.4,266.9 344.4,276.8 340.0,276.8" fill="#800000"/>
<polygon points="344.4,273.5 348.2,273.5 348.2,284.4 344.4,284.4" fill="#800000"/>
<polygon points="348.8,250.5 353.1,250.5 353.1,253.8 348.8,253.8" fill="#800000"/>
<polygon points="340.0,281.1 353.1,281.1 353.1,293.0 340.0,293.0" fill="#ffa114"/>
<polygon points="340.0,280.0 344.4,280.0 344.4,286.6 340.0,286.6" fill="#ffff80"/>
<polygon points="361.9,277.9 383.8,277.9 383.8,288.8 361.9,288.8" fill="#ffff80"/>
<polygon points="365.2,280.0 371.8,280.0 371.8,288.8 365.2,288.8" fill="#ffa114"/>
<polygon points="354.2,280.0 358.6,280.0 358.6,282.8 354.2,282.8" fill="#ffffff"/>
<polygon points="348.8,286.1 353.7,286.1 353.7,287.7 348.8,287.7" fill="#ffffff"/>
<polygon points="369.6,289.9 376.1,289.9 376.1,291.5 369.6,291.5" fill="#ffffff"/>
<polygon points="379.4,270.7 384.9,270.7 384.9,273.5 379.4,273.5" fill="#c85000"/>
<polygon points="388.2,276.8 392.0,276.8 392.0,279.5 388.2,279.5" fill="#800000"/>
<polygon points="391.5,275.7 400.0,275.7 400.0,286.6 391.5,286.6" fill="#c85000"/>
<polygon points="392.6,286.6 400.0,286.6 400.0,293.0 392.6,293.0" fill="#800000"/>
<polygon points="383.8,277.9 392.6,277.9 392.6,293.0 383.8,293.0" fill="#ffa114"/>
<polygon points="390.0,251.7 450.0,251.7 450.0,303.0 390.0,303.0" fill="#800000"/>
<polygon points="390.0,261.6 395.5,261.6 395.5,274.7 390.0,274.7" fill="#ffd24d"/>
<polygon points="390.0,262.7 393.3,262.7 393.3,271.4 390.0,271.4" fill="#ffff80"/>
<polygon points="395.5,261.6 408.1,261.6 408.1,264.9 395.5,264.9" fill="#c85000"/>
<polygon points="396.6,267.0 408.1,267.0 408.1,273.6 396.6,273.6" fill="#c85000"/>
<polygon points="392.2,273.6 400.4,273.6 400.4,280.2 392.2,280.2" fill="#c85000"/>
<polygon points="390.0,280.2 399.9,280.2 399.9,286.8 390.0,286.8" fill="#ffa114"/>
<polygon points="390.0,286.8 392.2,286.8 392.2,298.8 390.0,298.8" fill="#ffd24d"/>
<polygon points="392.2,298.8 416.3,298.8 416.3,303.0 392.2,303.0" fill="#c85000"/>
<polygon points="340.0,293.3 392.6,293.3 392.6,322.9 340.0,322.9" fill="#ffff80"/>
<polygon points="340.0,290.0 392.6,290.0 392.6,294.4 340.0,294.4" fill="#ffd24d"/>
<polygon points="340.0,301.0 346.6,301.0 346.6,311.9 340.0,311.9" fill="#ffd24d"/>
<polygon points="361.9,301.0 368.5,301.0 368.5,309.7 361.9,309.7" fill="#ffa114"/>
<polygon points="374.0,296.6 391.5,296.6 391.5,305.3 374.0,305.3" fill="#ffd24d"/>
<polygon points="380.5,295.5 384.9,295.5 384.9,299.9 380.5,299.9" fill="#ffff80"/>
<polygon points="340.0,290.0 351.0,290.0 351.0,293.3 340.0,293.3" fill="#c85000"/>
<polygon points="341.1,293.3 345.5,293.3 345.5,296.6 341.1,296.6" fill="#c85000"/>
<polygon points="364.1,291.1 367.9,291.1 367.9,292.7 364.1,292.7" fill="#c85000"/>
<polygon points="392.6,288.9 400.0,288.9 400.0,298.8 392.6,298.8" fill="#800000"/>
<polygon points="392.6,299.3 400.0,299.3 400.0,305.3 392.6,305.3" fill="#c85000"/>
<polygon points="384.9,306.4 400.0,306.4 400.0,310.8 384.9,310.8" fill="#800000"/>
<polygon points="392.6,310.8 400.0,310.8 400.0,321.2 392.6,321.2" fill="#800000"/>
<polygon points="380.5,309.7 392.6,309.7 392.6,320.7 380.5,320.7" fill="#c85000"/>
<polygon points="384.4,299.3 388.2,299.3 388.2,302.0 384.4,302.0" fill="#c85000"/>
<polygon points="372.9,315.2 384.9,315.2 384.9,329.4 372.9,329.4" fill="#ffa114"/>
<polygon points="363.5,317.4 372.9,314.6 372.9,326.1 370.7,327.2" fill="#ffa114"/>
<polygon points="340.0,315.2 353.1,315.2 353.1,326.1 340.0,326.1" fill="#ffd24d"/>
<polygon points="353.1,321.8 359.7,321.8 359.7,329.4 353.1,329.4" fill="#ffd24d"/>
<polygon points="353.1,329.4 356.4,329.4 356.4,338.0 353.1,338.0" fill="#ffd24d"/>
<polygon points="359.7,316.3 368.5,316.3 368.5,333.8 359.7,333.8" fill="#ffff80"/>
<polygon points="368.5,327.2 377.2,327.2 377.2,338.0 368.5,338.0" fill="#ffff80"/>
<polygon points="377.2,326.1 384.9,326.1 384.9,333.8 377.2,333.8" fill="#ffa114"/>
<polygon points="348.2,307.0 352.6,307.0 352.6,310.8 348.2,310.8" fill="#ffffff"/>
<polygon points="372.3,311.9 376.1,311.9 376.1,315.2 372.3,315.2" fill="#ffffff"/>
<polygon points="306.5,288.6 313.9,288.6 313.9,295.5 306.5,295.5" fill="#c85000"/>
<polygon points="306.5,288.6 309.8,285.3 313.9,285.3 313.9,288.6" fill="#c85000"/>
<polygon points="297.5,289.4 306.5,289.4 306.5,292.7 297.5,292.7" fill="#ffd24d"/>
</g></g>
</svg>
</body></html>
